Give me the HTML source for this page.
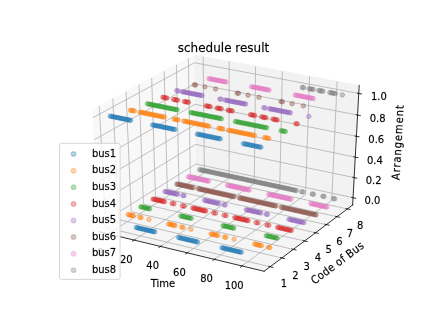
<!DOCTYPE html>
<html><head><meta charset="utf-8"><title>schedule result</title>
<style>html,body{margin:0;padding:0;background:#fff;overflow:hidden}svg{display:block}svg text{stroke:#000;stroke-width:0.25px;stroke-opacity:0.6}</style></head>
<body>
<svg width="436" height="327" viewBox="0 0 436 327" version="1.1">
 
 <defs>
  <style type="text/css">*{stroke-linejoin: round; stroke-linecap: butt}</style>
 </defs>
 <g id="figure_1">
  <g id="patch_1">
   <path d="M 0 327 
L 436 327 
L 436 0 
L 0 0 
z
" style="fill: #ffffff"/>
  </g>
  <g id="patch_2">
   <path d="M 54.54 286.46 
L 392.38 286.46 
L 392.38 38.83 
L 54.54 38.83 
z
" style="fill: #ffffff"/>
  </g>
  <g id="pane3d_1">
   <g id="patch_3">
    <path d="M 99.32687 231.741958 
L 196.017709 171.029151 
L 194.40792 55.016904 
L 92.325976 109.566158 
" style="fill: #f2f2f2; opacity: 0.5; stroke: #f2f2f2; stroke-linejoin: miter"/>
   </g>
  </g>
  <g id="pane3d_2">
   <g id="patch_4">
    <path d="M 196.017709 171.029151 
L 352.647852 204.971536 
L 359.201019 85.461013 
L 194.40792 55.016904 
" style="fill: #e6e6e6; opacity: 0.5; stroke: #e6e6e6; stroke-linejoin: miter"/>
   </g>
  </g>
  <g id="pane3d_3">
   <g id="patch_5">
    <path d="M 99.32687 231.741958 
L 264.122883 271.273351 
L 352.647852 204.971536 
L 196.017709 171.029151 
" style="fill: #ececec; opacity: 0.5; stroke: #ececec; stroke-linejoin: miter"/>
   </g>
  </g>
  <g id="grid3d_1">
   <g id="Line3DCollection_1">
    <path d="M 108.080576 233.841803 
L 204.364116 172.837851 
L 203.171218 56.635848 
" style="fill: none; stroke: #b0b0b0; stroke-width: 0.8"/>
    <path d="M 134.080704 240.078734 
L 229.136944 178.206223 
L 229.193385 61.44322 
" style="fill: none; stroke: #b0b0b0; stroke-width: 0.8"/>
    <path d="M 160.46642 246.40816 
L 254.250344 183.648398 
L 255.591596 66.320062 
" style="fill: none; stroke: #b0b0b0; stroke-width: 0.8"/>
    <path d="M 187.246364 252.832153 
L 279.711388 189.165909 
L 282.374064 71.267893 
" style="fill: none; stroke: #b0b0b0; stroke-width: 0.8"/>
    <path d="M 214.429437 259.35285 
L 305.527346 194.760332 
L 309.549238 76.288273 
" style="fill: none; stroke: #b0b0b0; stroke-width: 0.8"/>
    <path d="M 242.024813 265.972449 
L 331.705689 200.433285 
L 337.125821 81.38281 
" style="fill: none; stroke: #b0b0b0; stroke-width: 0.8"/>
   </g>
  </g>
  <g id="grid3d_2">
   <g id="Line3DCollection_2">
    <path d="M 99.310911 105.833637 
L 105.918925 227.602764 
L 270.177104 266.738971 
" style="fill: none; stroke: #b0b0b0; stroke-width: 0.8"/>
    <path d="M 112.799635 98.625704 
L 118.658897 219.603252 
L 281.869793 257.981595 
" style="fill: none; stroke: #b0b0b0; stroke-width: 0.8"/>
    <path d="M 126.020722 91.560787 
L 131.158822 211.754469 
L 293.332117 249.396752 
" style="fill: none; stroke: #b0b0b0; stroke-width: 0.8"/>
    <path d="M 138.982059 84.634672 
L 143.425419 204.052192 
L 304.570819 240.979395 
" style="fill: none; stroke: #b0b0b0; stroke-width: 0.8"/>
    <path d="M 151.691226 77.843308 
L 155.465163 196.492359 
L 315.592379 232.724668 
" style="fill: none; stroke: #b0b0b0; stroke-width: 0.8"/>
    <path d="M 164.155513 71.182801 
L 167.284288 189.071053 
L 326.40303 224.627903 
" style="fill: none; stroke: #b0b0b0; stroke-width: 0.8"/>
    <path d="M 176.381928 64.649405 
L 178.888803 181.784503 
L 337.008769 216.68461 
" style="fill: none; stroke: #b0b0b0; stroke-width: 0.8"/>
    <path d="M 188.377216 58.239515 
L 190.284501 174.62907 
L 347.415368 208.890466 
" style="fill: none; stroke: #b0b0b0; stroke-width: 0.8"/>
   </g>
  </g>
  <g id="grid3d_3">
   <g id="Line3DCollection_3">
    <path d="M 353.045222 197.724663 
L 195.919895 163.979999 
L 98.903037 224.345439 
" style="fill: none; stroke: #b0b0b0; stroke-width: 0.8"/>
    <path d="M 354.14853 177.603572 
L 195.648447 144.41765 
L 97.725789 203.80076 
" style="fill: none; stroke: #b0b0b0; stroke-width: 0.8"/>
    <path d="M 355.271485 157.124179 
L 195.37237 124.521686 
L 96.526878 182.878009 
" style="fill: none; stroke: #b0b0b0; stroke-width: 0.8"/>
    <path d="M 356.414616 136.276828 
L 195.091545 104.283501 
L 95.305699 161.566655 
" style="fill: none; stroke: #b0b0b0; stroke-width: 0.8"/>
    <path d="M 357.578472 115.051512 
L 194.805847 83.694187 
L 94.061626 139.855769 
" style="fill: none; stroke: #b0b0b0; stroke-width: 0.8"/>
    <path d="M 358.763622 93.437858 
L 194.515149 62.744526 
L 92.794009 117.734009 
" style="fill: none; stroke: #b0b0b0; stroke-width: 0.8"/>
   </g>
  </g>
  <g id="axis3d_1">
   <g id="line2d_1">
    <path d="M 99.32687 231.741958 
L 264.122883 271.273351 
" style="fill: none; stroke: #000000; stroke-width: 0.8; stroke-linecap: square"/>
   </g>
   <g id="xtick_1">
    <g id="line2d_2">
     <path d="M 108.910086 233.316237 
L 106.418463 234.894896 
" style="fill: none; stroke: #000000; stroke-width: 0.8; stroke-linecap: square"/>
    </g>
    <g id="text_1">
     <text style="font-size: 10px; font-family: 'DejaVu Sans', 'Liberation Sans', sans-serif; text-anchor: middle" x="0" y="0" transform="translate(100.258 256.379) rotate(-0.0000) scale(1 1.120)">0</text>
    </g>
   </g>
   <g id="xtick_2">
    <g id="line2d_3">
     <path d="M 134.900071 239.545405 
L 132.438893 241.147396 
" style="fill: none; stroke: #000000; stroke-width: 0.8; stroke-linecap: square"/>
    </g>
    <g id="text_2">
     <text style="font-size: 10px; font-family: 'DejaVu Sans', 'Liberation Sans', sans-serif; text-anchor: middle" x="0" y="0" transform="translate(126.255 262.729) rotate(-0.0000) scale(1 1.120)">20</text>
    </g>
   </g>
   <g id="xtick_3">
    <g id="line2d_4">
     <path d="M 161.27525 245.866894 
L 158.845698 247.492739 
" style="fill: none; stroke: #000000; stroke-width: 0.8; stroke-linecap: square"/>
    </g>
    <g id="text_3">
     <text style="font-size: 10px; font-family: 'DejaVu Sans', 'Liberation Sans', sans-serif; text-anchor: middle" x="0" y="0" transform="translate(152.639 269.174) rotate(-0.0000) scale(1 1.120)">40</text>
    </g>
   </g>
   <g id="xtick_4">
    <g id="line2d_5">
     <path d="M 188.04425 252.282773 
L 185.647548 253.933008 
" style="fill: none; stroke: #000000; stroke-width: 0.8; stroke-linecap: square"/>
    </g>
    <g id="text_4">
     <text style="font-size: 10px; font-family: 'DejaVu Sans', 'Liberation Sans', sans-serif; text-anchor: middle" x="0" y="0" transform="translate(179.417 275.716) rotate(-0.0000) scale(1 1.120)">60</text>
    </g>
   </g>
   <g id="xtick_5">
    <g id="line2d_6">
     <path d="M 215.215958 258.795171 
L 212.853375 260.470349 
" style="fill: none; stroke: #000000; stroke-width: 0.8; stroke-linecap: square"/>
    </g>
    <g id="text_5">
     <text style="font-size: 10px; font-family: 'DejaVu Sans', 'Liberation Sans', sans-serif; text-anchor: middle" x="0" y="0" transform="translate(206.599 282.356) rotate(-0.0000) scale(1 1.120)">80</text>
    </g>
   </g>
   <g id="xtick_6">
    <g id="line2d_7">
     <path d="M 242.79953 265.406283 
L 240.47238 267.106974 
" style="fill: none; stroke: #000000; stroke-width: 0.8; stroke-linecap: square"/>
    </g>
    <g id="text_6">
     <text style="font-size: 10px; font-family: 'DejaVu Sans', 'Liberation Sans', sans-serif; text-anchor: middle" x="0" y="0" transform="translate(234.194 289.097) rotate(-0.0000) scale(1 1.120)">100</text>
    </g>
   </g>
   <g id="text_7">
    <text style="font-size: 10px; font-family: 'DejaVu Sans', 'Liberation Sans', sans-serif; text-anchor: middle" x="0" y="0" transform="translate(162.863 286.736) rotate(-0.0000) scale(1 1.120)">Time</text>
   </g>
  </g>
  <g id="axis3d_2">
   <g id="line2d_8">
    <path d="M 352.647852 204.971536 
L 264.122883 271.273351 
" style="fill: none; stroke: #000000; stroke-width: 0.8; stroke-linecap: square"/>
   </g>
   <g id="xtick_7">
    <g id="line2d_9">
     <path d="M 268.802408 266.411436 
L 272.929569 267.394774 
" style="fill: none; stroke: #000000; stroke-width: 0.8; stroke-linecap: square"/>
    </g>
    <g id="text_8">
     <text style="font-size: 10px; font-family: 'DejaVu Sans', 'Liberation Sans', sans-serif; text-anchor: middle" x="0" y="0" transform="translate(283.865 287.480) rotate(-0.0000) scale(1 1.120)">1</text>
    </g>
   </g>
   <g id="xtick_8">
    <g id="line2d_10">
     <path d="M 280.504461 257.660543 
L 284.603478 258.624409 
" style="fill: none; stroke: #000000; stroke-width: 0.8; stroke-linecap: square"/>
    </g>
    <g id="text_9">
     <text style="font-size: 10px; font-family: 'DejaVu Sans', 'Liberation Sans', sans-serif; text-anchor: middle" x="0" y="0" transform="translate(295.424 278.608) rotate(-0.0000) scale(1 1.120)">2</text>
    </g>
   </g>
   <g id="xtick_9">
    <g id="line2d_11">
     <path d="M 291.976048 249.081993 
L 296.047225 250.02696 
" style="fill: none; stroke: #000000; stroke-width: 0.8; stroke-linecap: square"/>
    </g>
    <g id="text_10">
     <text style="font-size: 10px; font-family: 'DejaVu Sans', 'Liberation Sans', sans-serif; text-anchor: middle" x="0" y="0" transform="translate(306.756 269.910) rotate(-0.0000) scale(1 1.120)">3</text>
    </g>
   </g>
   <g id="xtick_10">
    <g id="line2d_12">
     <path d="M 303.223914 240.670745 
L 307.267551 241.597363 
" style="fill: none; stroke: #000000; stroke-width: 0.8; stroke-linecap: square"/>
    </g>
    <g id="text_11">
     <text style="font-size: 10px; font-family: 'DejaVu Sans', 'Liberation Sans', sans-serif; text-anchor: middle" x="0" y="0" transform="translate(317.867 261.382) rotate(-0.0000) scale(1 1.120)">4</text>
    </g>
   </g>
   <g id="xtick_11">
    <g id="line2d_13">
     <path d="M 314.254539 232.421952 
L 318.270934 233.33075 
" style="fill: none; stroke: #000000; stroke-width: 0.8; stroke-linecap: square"/>
    </g>
    <g id="text_12">
     <text style="font-size: 10px; font-family: 'DejaVu Sans', 'Liberation Sans', sans-serif; text-anchor: middle" x="0" y="0" transform="translate(328.763 253.018) rotate(-0.0000) scale(1 1.120)">5</text>
    </g>
   </g>
   <g id="xtick_12">
    <g id="line2d_14">
     <path d="M 325.074156 224.330951 
L 329.063608 225.222439 
" style="fill: none; stroke: #000000; stroke-width: 0.8; stroke-linecap: square"/>
    </g>
    <g id="text_13">
     <text style="font-size: 10px; font-family: 'DejaVu Sans', 'Liberation Sans', sans-serif; text-anchor: middle" x="0" y="0" transform="translate(339.451 244.815) rotate(-0.0000) scale(1 1.120)">6</text>
    </g>
   </g>
   <g id="xtick_13">
    <g id="line2d_15">
     <path d="M 335.688762 216.393259 
L 339.651566 217.267926 
" style="fill: none; stroke: #000000; stroke-width: 0.8; stroke-linecap: square"/>
    </g>
    <g id="text_14">
     <text style="font-size: 10px; font-family: 'DejaVu Sans', 'Liberation Sans', sans-serif; text-anchor: middle" x="0" y="0" transform="translate(349.936 236.767) rotate(-0.0000) scale(1 1.120)">7</text>
    </g>
   </g>
   <g id="xtick_14">
    <g id="line2d_16">
     <path d="M 346.104131 208.604559 
L 350.040578 209.462877 
" style="fill: none; stroke: #000000; stroke-width: 0.8; stroke-linecap: square"/>
    </g>
    <g id="text_15">
     <text style="font-size: 10px; font-family: 'DejaVu Sans', 'Liberation Sans', sans-serif; text-anchor: middle" x="0" y="0" transform="translate(360.224 228.870) rotate(-0.0000) scale(1 1.120)">8</text>
    </g>
   </g>
   <g id="text_16">
    <text style="font-size: 10px; font-family: 'DejaVu Sans', 'Liberation Sans', sans-serif; text-anchor: middle" x="0" y="0" transform="translate(339.557 265.950) rotate(-36.8318) scale(1 1.120)" textLength="62.59" lengthAdjust="spacing">Code of Bus</text>
   </g>
  </g>
  <g id="axis3d_3">
   <g id="line2d_17">
    <path d="M 352.647852 204.971536 
L 359.201019 85.461013 
" style="fill: none; stroke: #000000; stroke-width: 0.8; stroke-linecap: square"/>
   </g>
   <g id="xtick_15">
    <g id="line2d_18">
     <path d="M 351.734118 197.443087 
L 355.670164 198.288403 
" style="fill: none; stroke: #000000; stroke-width: 0.8; stroke-linecap: square"/>
    </g>
    <g id="text_17">
     <text style="font-size: 10px; font-family: 'DejaVu Sans', 'Liberation Sans', sans-serif; text-anchor: middle" x="0" y="0" transform="translate(372.411 204.084) rotate(-0.0000) scale(1 1.120)">0.0</text>
    </g>
   </g>
   <g id="xtick_16">
    <g id="line2d_19">
     <path d="M 352.825473 177.326558 
L 356.797426 178.158184 
" style="fill: none; stroke: #000000; stroke-width: 0.8; stroke-linecap: square"/>
    </g>
    <g id="text_18">
     <text style="font-size: 10px; font-family: 'DejaVu Sans', 'Liberation Sans', sans-serif; text-anchor: middle" x="0" y="0" transform="translate(373.675 183.994) rotate(-0.0000) scale(1 1.120)">0.2</text>
    </g>
   </g>
   <g id="xtick_17">
    <g id="line2d_20">
     <path d="M 353.936255 156.851934 
L 357.944777 157.669248 
" style="fill: none; stroke: #000000; stroke-width: 0.8; stroke-linecap: square"/>
    </g>
    <g id="text_19">
     <text style="font-size: 10px; font-family: 'DejaVu Sans', 'Liberation Sans', sans-serif; text-anchor: middle" x="0" y="0" transform="translate(374.961 163.547) rotate(-0.0000) scale(1 1.120)">0.4</text>
    </g>
   </g>
   <g id="xtick_18">
    <g id="line2d_21">
     <path d="M 355.066988 136.009569 
L 359.112756 136.811919 
" style="fill: none; stroke: #000000; stroke-width: 0.8; stroke-linecap: square"/>
    </g>
    <g id="text_20">
     <text style="font-size: 10px; font-family: 'DejaVu Sans', 'Liberation Sans', sans-serif; text-anchor: middle" x="0" y="0" transform="translate(376.270 142.735) rotate(-0.0000) scale(1 1.120)">0.6</text>
    </g>
   </g>
   <g id="xtick_19">
    <g id="line2d_22">
     <path d="M 356.218213 114.789465 
L 360.301927 115.576172 
" style="fill: none; stroke: #000000; stroke-width: 0.8; stroke-linecap: square"/>
    </g>
    <g id="text_21">
     <text style="font-size: 10px; font-family: 'DejaVu Sans', 'Liberation Sans', sans-serif; text-anchor: middle" x="0" y="0" transform="translate(377.603 121.545) rotate(-0.0000) scale(1 1.120)">0.8</text>
    </g>
   </g>
   <g id="xtick_20">
    <g id="line2d_23">
     <path d="M 357.390494 93.18126 
L 361.512871 93.951614 
" style="fill: none; stroke: #000000; stroke-width: 0.8; stroke-linecap: square"/>
    </g>
    <g id="text_22">
     <text style="font-size: 10px; font-family: 'DejaVu Sans', 'Liberation Sans', sans-serif; text-anchor: middle" x="0" y="0" transform="translate(378.960 99.969) rotate(-0.0000) scale(1 1.120)">1.0</text>
    </g>
   </g>
   <g id="text_23">
    <text style="font-size: 10px; font-family: 'DejaVu Sans', 'Liberation Sans', sans-serif; text-anchor: middle" x="0" y="0" transform="translate(401.612 142.870) rotate(-86.8614) scale(1 1.120)" textLength="75.08" lengthAdjust="spacing">Arrangement</text>
   </g>
  </g>
  <g id="axes_1">
   <g id="Path3DCollection_1">
    
    <g clip-path="url(#p0552d5e2ae)">
     <circle cx="199.803788" cy="169.640628" r="2.2361" style="fill: #7f7f7f; fill-opacity: 0.4; stroke: #7f7f7f; stroke-opacity: 0.4"/>
     <circle cx="201.04278" cy="169.908367" r="2.2361" style="fill: #7f7f7f; fill-opacity: 0.4; stroke: #7f7f7f; stroke-opacity: 0.4"/>
     <circle cx="202.28262" cy="170.17629" r="2.2361" style="fill: #7f7f7f; fill-opacity: 0.4; stroke: #7f7f7f; stroke-opacity: 0.4"/>
     <circle cx="203.523308" cy="170.444396" r="2.2361" style="fill: #7f7f7f; fill-opacity: 0.4; stroke: #7f7f7f; stroke-opacity: 0.4"/>
     <circle cx="204.764845" cy="170.712685" r="2.2361" style="fill: #7f7f7f; fill-opacity: 0.4; stroke: #7f7f7f; stroke-opacity: 0.4"/>
     <circle cx="206.007233" cy="170.981158" r="2.2361" style="fill: #7f7f7f; fill-opacity: 0.4; stroke: #7f7f7f; stroke-opacity: 0.4"/>
     <circle cx="207.250471" cy="171.249815" r="2.2361" style="fill: #7f7f7f; fill-opacity: 0.4; stroke: #7f7f7f; stroke-opacity: 0.4"/>
     <circle cx="208.494561" cy="171.518656" r="2.2361" style="fill: #7f7f7f; fill-opacity: 0.4; stroke: #7f7f7f; stroke-opacity: 0.4"/>
     <circle cx="209.739504" cy="171.787682" r="2.2361" style="fill: #7f7f7f; fill-opacity: 0.4; stroke: #7f7f7f; stroke-opacity: 0.4"/>
     <circle cx="210.9853" cy="172.056892" r="2.2361" style="fill: #7f7f7f; fill-opacity: 0.4; stroke: #7f7f7f; stroke-opacity: 0.4"/>
     <circle cx="212.231951" cy="172.326286" r="2.2361" style="fill: #7f7f7f; fill-opacity: 0.4; stroke: #7f7f7f; stroke-opacity: 0.4"/>
     <circle cx="213.479457" cy="172.595865" r="2.2361" style="fill: #7f7f7f; fill-opacity: 0.4; stroke: #7f7f7f; stroke-opacity: 0.4"/>
     <circle cx="214.72782" cy="172.865629" r="2.2361" style="fill: #7f7f7f; fill-opacity: 0.4; stroke: #7f7f7f; stroke-opacity: 0.4"/>
     <circle cx="215.977039" cy="173.135579" r="2.2361" style="fill: #7f7f7f; fill-opacity: 0.4; stroke: #7f7f7f; stroke-opacity: 0.4"/>
     <circle cx="217.227116" cy="173.405714" r="2.2361" style="fill: #7f7f7f; fill-opacity: 0.4; stroke: #7f7f7f; stroke-opacity: 0.4"/>
     <circle cx="218.478053" cy="173.676034" r="2.2361" style="fill: #7f7f7f; fill-opacity: 0.4; stroke: #7f7f7f; stroke-opacity: 0.4"/>
     <circle cx="219.729849" cy="173.94654" r="2.2361" style="fill: #7f7f7f; fill-opacity: 0.4; stroke: #7f7f7f; stroke-opacity: 0.4"/>
     <circle cx="220.982505" cy="174.217233" r="2.2361" style="fill: #7f7f7f; fill-opacity: 0.4; stroke: #7f7f7f; stroke-opacity: 0.4"/>
     <circle cx="222.236023" cy="174.488111" r="2.2361" style="fill: #7f7f7f; fill-opacity: 0.4; stroke: #7f7f7f; stroke-opacity: 0.4"/>
     <circle cx="223.490404" cy="174.759176" r="2.2361" style="fill: #7f7f7f; fill-opacity: 0.4; stroke: #7f7f7f; stroke-opacity: 0.4"/>
     <circle cx="224.745648" cy="175.030427" r="2.2361" style="fill: #7f7f7f; fill-opacity: 0.4; stroke: #7f7f7f; stroke-opacity: 0.4"/>
     <circle cx="226.001756" cy="175.301865" r="2.2361" style="fill: #7f7f7f; fill-opacity: 0.4; stroke: #7f7f7f; stroke-opacity: 0.4"/>
     <circle cx="227.258729" cy="175.57349" r="2.2361" style="fill: #7f7f7f; fill-opacity: 0.4; stroke: #7f7f7f; stroke-opacity: 0.4"/>
     <circle cx="228.516568" cy="175.845302" r="2.2361" style="fill: #7f7f7f; fill-opacity: 0.4; stroke: #7f7f7f; stroke-opacity: 0.4"/>
     <circle cx="229.775274" cy="176.117302" r="2.2361" style="fill: #7f7f7f; fill-opacity: 0.4; stroke: #7f7f7f; stroke-opacity: 0.4"/>
     <circle cx="231.034847" cy="176.389489" r="2.2361" style="fill: #7f7f7f; fill-opacity: 0.4; stroke: #7f7f7f; stroke-opacity: 0.4"/>
     <circle cx="232.29529" cy="176.661863" r="2.2361" style="fill: #7f7f7f; fill-opacity: 0.4; stroke: #7f7f7f; stroke-opacity: 0.4"/>
     <circle cx="233.556601" cy="176.934426" r="2.2361" style="fill: #7f7f7f; fill-opacity: 0.4; stroke: #7f7f7f; stroke-opacity: 0.4"/>
     <circle cx="234.818784" cy="177.207177" r="2.2361" style="fill: #7f7f7f; fill-opacity: 0.4; stroke: #7f7f7f; stroke-opacity: 0.4"/>
     <circle cx="236.081837" cy="177.480116" r="2.2361" style="fill: #7f7f7f; fill-opacity: 0.4; stroke: #7f7f7f; stroke-opacity: 0.4"/>
     <circle cx="237.345763" cy="177.753243" r="2.2361" style="fill: #7f7f7f; fill-opacity: 0.4; stroke: #7f7f7f; stroke-opacity: 0.4"/>
     <circle cx="238.610563" cy="178.026559" r="2.2361" style="fill: #7f7f7f; fill-opacity: 0.4; stroke: #7f7f7f; stroke-opacity: 0.4"/>
     <circle cx="239.876236" cy="178.300064" r="2.2361" style="fill: #7f7f7f; fill-opacity: 0.4; stroke: #7f7f7f; stroke-opacity: 0.4"/>
     <circle cx="241.142784" cy="178.573758" r="2.2361" style="fill: #7f7f7f; fill-opacity: 0.4; stroke: #7f7f7f; stroke-opacity: 0.4"/>
     <circle cx="242.410208" cy="178.847642" r="2.2361" style="fill: #7f7f7f; fill-opacity: 0.4; stroke: #7f7f7f; stroke-opacity: 0.4"/>
     <circle cx="243.678509" cy="179.121715" r="2.2361" style="fill: #7f7f7f; fill-opacity: 0.4; stroke: #7f7f7f; stroke-opacity: 0.4"/>
     <circle cx="244.947687" cy="179.395977" r="2.2361" style="fill: #7f7f7f; fill-opacity: 0.4; stroke: #7f7f7f; stroke-opacity: 0.4"/>
     <circle cx="246.217745" cy="179.67043" r="2.2361" style="fill: #7f7f7f; fill-opacity: 0.4; stroke: #7f7f7f; stroke-opacity: 0.4"/>
     <circle cx="247.488681" cy="179.945072" r="2.2361" style="fill: #7f7f7f; fill-opacity: 0.4; stroke: #7f7f7f; stroke-opacity: 0.4"/>
     <circle cx="248.760498" cy="180.219905" r="2.2361" style="fill: #7f7f7f; fill-opacity: 0.4; stroke: #7f7f7f; stroke-opacity: 0.4"/>
     <circle cx="250.033197" cy="180.494928" r="2.2361" style="fill: #7f7f7f; fill-opacity: 0.4; stroke: #7f7f7f; stroke-opacity: 0.4"/>
     <circle cx="251.306778" cy="180.770142" r="2.2361" style="fill: #7f7f7f; fill-opacity: 0.4; stroke: #7f7f7f; stroke-opacity: 0.4"/>
     <circle cx="252.581242" cy="181.045546" r="2.2361" style="fill: #7f7f7f; fill-opacity: 0.4; stroke: #7f7f7f; stroke-opacity: 0.4"/>
     <circle cx="253.85659" cy="181.321142" r="2.2361" style="fill: #7f7f7f; fill-opacity: 0.4; stroke: #7f7f7f; stroke-opacity: 0.4"/>
     <circle cx="255.132823" cy="181.596929" r="2.2361" style="fill: #7f7f7f; fill-opacity: 0.4; stroke: #7f7f7f; stroke-opacity: 0.4"/>
     <circle cx="256.409942" cy="181.872907" r="2.2361" style="fill: #7f7f7f; fill-opacity: 0.4; stroke: #7f7f7f; stroke-opacity: 0.4"/>
     <circle cx="257.687948" cy="182.149078" r="2.2361" style="fill: #7f7f7f; fill-opacity: 0.4; stroke: #7f7f7f; stroke-opacity: 0.4"/>
     <circle cx="258.966842" cy="182.425439" r="2.2361" style="fill: #7f7f7f; fill-opacity: 0.4; stroke: #7f7f7f; stroke-opacity: 0.4"/>
     <circle cx="260.246624" cy="182.701993" r="2.2361" style="fill: #7f7f7f; fill-opacity: 0.4; stroke: #7f7f7f; stroke-opacity: 0.4"/>
     <circle cx="261.527296" cy="182.97874" r="2.2361" style="fill: #7f7f7f; fill-opacity: 0.4; stroke: #7f7f7f; stroke-opacity: 0.4"/>
     <circle cx="262.808859" cy="183.255678" r="2.2361" style="fill: #7f7f7f; fill-opacity: 0.4; stroke: #7f7f7f; stroke-opacity: 0.4"/>
     <circle cx="264.091313" cy="183.53281" r="2.2361" style="fill: #7f7f7f; fill-opacity: 0.4; stroke: #7f7f7f; stroke-opacity: 0.4"/>
     <circle cx="265.37466" cy="183.810134" r="2.2361" style="fill: #7f7f7f; fill-opacity: 0.4; stroke: #7f7f7f; stroke-opacity: 0.4"/>
     <circle cx="266.6589" cy="184.087651" r="2.2361" style="fill: #7f7f7f; fill-opacity: 0.4; stroke: #7f7f7f; stroke-opacity: 0.4"/>
     <circle cx="267.944034" cy="184.365362" r="2.2361" style="fill: #7f7f7f; fill-opacity: 0.4; stroke: #7f7f7f; stroke-opacity: 0.4"/>
     <circle cx="269.230064" cy="184.643265" r="2.2361" style="fill: #7f7f7f; fill-opacity: 0.4; stroke: #7f7f7f; stroke-opacity: 0.4"/>
     <circle cx="270.516989" cy="184.921363" r="2.2361" style="fill: #7f7f7f; fill-opacity: 0.4; stroke: #7f7f7f; stroke-opacity: 0.4"/>
     <circle cx="271.804812" cy="185.199655" r="2.2361" style="fill: #7f7f7f; fill-opacity: 0.4; stroke: #7f7f7f; stroke-opacity: 0.4"/>
     <circle cx="273.093533" cy="185.47814" r="2.2361" style="fill: #7f7f7f; fill-opacity: 0.4; stroke: #7f7f7f; stroke-opacity: 0.4"/>
     <circle cx="274.383153" cy="185.75682" r="2.2361" style="fill: #7f7f7f; fill-opacity: 0.4; stroke: #7f7f7f; stroke-opacity: 0.4"/>
     <circle cx="275.673673" cy="186.035694" r="2.2361" style="fill: #7f7f7f; fill-opacity: 0.4; stroke: #7f7f7f; stroke-opacity: 0.4"/>
     <circle cx="276.965094" cy="186.314763" r="2.2361" style="fill: #7f7f7f; fill-opacity: 0.4; stroke: #7f7f7f; stroke-opacity: 0.4"/>
     <circle cx="278.257416" cy="186.594027" r="2.2361" style="fill: #7f7f7f; fill-opacity: 0.4; stroke: #7f7f7f; stroke-opacity: 0.4"/>
     <circle cx="279.550641" cy="186.873486" r="2.2361" style="fill: #7f7f7f; fill-opacity: 0.4; stroke: #7f7f7f; stroke-opacity: 0.4"/>
     <circle cx="280.84477" cy="187.15314" r="2.2361" style="fill: #7f7f7f; fill-opacity: 0.4; stroke: #7f7f7f; stroke-opacity: 0.4"/>
     <circle cx="282.139804" cy="187.43299" r="2.2361" style="fill: #7f7f7f; fill-opacity: 0.4; stroke: #7f7f7f; stroke-opacity: 0.4"/>
     <circle cx="283.435743" cy="187.713035" r="2.2361" style="fill: #7f7f7f; fill-opacity: 0.4; stroke: #7f7f7f; stroke-opacity: 0.4"/>
     <circle cx="284.732589" cy="187.993276" r="2.2361" style="fill: #7f7f7f; fill-opacity: 0.4; stroke: #7f7f7f; stroke-opacity: 0.4"/>
     <circle cx="286.030342" cy="188.273714" r="2.2361" style="fill: #7f7f7f; fill-opacity: 0.4; stroke: #7f7f7f; stroke-opacity: 0.4"/>
     <circle cx="287.329004" cy="188.554347" r="2.2361" style="fill: #7f7f7f; fill-opacity: 0.4; stroke: #7f7f7f; stroke-opacity: 0.4"/>
     <circle cx="288.628575" cy="188.835177" r="2.2361" style="fill: #7f7f7f; fill-opacity: 0.4; stroke: #7f7f7f; stroke-opacity: 0.4"/>
     <circle cx="289.929057" cy="189.116204" r="2.2361" style="fill: #7f7f7f; fill-opacity: 0.4; stroke: #7f7f7f; stroke-opacity: 0.4"/>
     <circle cx="291.23045" cy="189.397428" r="2.2361" style="fill: #7f7f7f; fill-opacity: 0.4; stroke: #7f7f7f; stroke-opacity: 0.4"/>
     <circle cx="292.532755" cy="189.678849" r="2.2361" style="fill: #7f7f7f; fill-opacity: 0.4; stroke: #7f7f7f; stroke-opacity: 0.4"/>
     <circle cx="293.835973" cy="189.960468" r="2.2361" style="fill: #7f7f7f; fill-opacity: 0.4; stroke: #7f7f7f; stroke-opacity: 0.4"/>
     <circle cx="295.140106" cy="190.242284" r="2.2361" style="fill: #7f7f7f; fill-opacity: 0.4; stroke: #7f7f7f; stroke-opacity: 0.4"/>
     <circle cx="296.445154" cy="190.524297" r="2.2361" style="fill: #7f7f7f; fill-opacity: 0.4; stroke: #7f7f7f; stroke-opacity: 0.4"/>
     <circle cx="301.674516" cy="191.654334" r="2.2361" style="fill: #7f7f7f; fill-opacity: 0.4; stroke: #7f7f7f; stroke-opacity: 0.4"/>
     <circle cx="302.984154" cy="191.937339" r="2.2361" style="fill: #7f7f7f; fill-opacity: 0.4; stroke: #7f7f7f; stroke-opacity: 0.4"/>
     <circle cx="312.177462" cy="193.923963" r="2.2361" style="fill: #7f7f7f; fill-opacity: 0.4; stroke: #7f7f7f; stroke-opacity: 0.4"/>
     <circle cx="313.494496" cy="194.208566" r="2.2361" style="fill: #7f7f7f; fill-opacity: 0.4; stroke: #7f7f7f; stroke-opacity: 0.4"/>
     <circle cx="322.739789" cy="196.206424" r="2.2361" style="fill: #7f7f7f; fill-opacity: 0.4; stroke: #7f7f7f; stroke-opacity: 0.4"/>
     <circle cx="324.06428" cy="196.492639" r="2.2361" style="fill: #7f7f7f; fill-opacity: 0.4; stroke: #7f7f7f; stroke-opacity: 0.4"/>
     <circle cx="333.362" cy="198.501825" r="2.2361" style="fill: #7f7f7f; fill-opacity: 0.4; stroke: #7f7f7f; stroke-opacity: 0.4"/>
     <circle cx="334.694012" cy="198.789666" r="2.2361" style="fill: #7f7f7f; fill-opacity: 0.4; stroke: #7f7f7f; stroke-opacity: 0.4"/>
     <circle cx="302.279244" cy="87.392923" r="2.2361" style="fill: #7f7f7f; fill-opacity: 0.4; stroke: #7f7f7f; stroke-opacity: 0.4"/>
     <circle cx="303.647555" cy="87.650277" r="2.2361" style="fill: #7f7f7f; fill-opacity: 0.4; stroke: #7f7f7f; stroke-opacity: 0.4"/>
     <circle cx="309.130861" cy="88.681586" r="2.2361" style="fill: #7f7f7f; fill-opacity: 0.4; stroke: #7f7f7f; stroke-opacity: 0.4"/>
     <circle cx="310.504209" cy="88.939888" r="2.2361" style="fill: #7f7f7f; fill-opacity: 0.4; stroke: #7f7f7f; stroke-opacity: 0.4"/>
     <circle cx="311.878567" cy="89.198379" r="2.2361" style="fill: #7f7f7f; fill-opacity: 0.4; stroke: #7f7f7f; stroke-opacity: 0.4"/>
     <circle cx="313.253938" cy="89.457061" r="2.2361" style="fill: #7f7f7f; fill-opacity: 0.4; stroke: #7f7f7f; stroke-opacity: 0.4"/>
     <circle cx="318.76556" cy="90.493696" r="2.2361" style="fill: #7f7f7f; fill-opacity: 0.4; stroke: #7f7f7f; stroke-opacity: 0.4"/>
     <circle cx="320.146007" cy="90.753333" r="2.2361" style="fill: #7f7f7f; fill-opacity: 0.4; stroke: #7f7f7f; stroke-opacity: 0.4"/>
     <circle cx="321.527472" cy="91.013161" r="2.2361" style="fill: #7f7f7f; fill-opacity: 0.4; stroke: #7f7f7f; stroke-opacity: 0.4"/>
     <circle cx="322.909957" cy="91.273181" r="2.2361" style="fill: #7f7f7f; fill-opacity: 0.4; stroke: #7f7f7f; stroke-opacity: 0.4"/>
     <circle cx="329.837717" cy="92.576166" r="2.2361" style="fill: #7f7f7f; fill-opacity: 0.4; stroke: #7f7f7f; stroke-opacity: 0.4"/>
     <circle cx="331.226344" cy="92.837341" r="2.2361" style="fill: #7f7f7f; fill-opacity: 0.4; stroke: #7f7f7f; stroke-opacity: 0.4"/>
     <circle cx="332.615998" cy="93.09871" r="2.2361" style="fill: #7f7f7f; fill-opacity: 0.4; stroke: #7f7f7f; stroke-opacity: 0.4"/>
     <circle cx="334.006682" cy="93.360272" r="2.2361" style="fill: #7f7f7f; fill-opacity: 0.4; stroke: #7f7f7f; stroke-opacity: 0.4"/>
     <circle cx="335.398395" cy="93.622028" r="2.2361" style="fill: #7f7f7f; fill-opacity: 0.4; stroke: #7f7f7f; stroke-opacity: 0.4"/>
     <circle cx="342.372452" cy="94.93372" r="2.2361" style="fill: #7f7f7f; fill-opacity: 0.4; stroke: #7f7f7f; stroke-opacity: 0.4"/>
    </g>
   </g>
   <g id="Path3DCollection_2">
    
    <g clip-path="url(#p0552d5e2ae)">
     <circle cx="188.428962" cy="176.791984" r="2.2361" style="fill: #e377c2; fill-opacity: 0.4; stroke: #e377c2; stroke-opacity: 0.4"/>
     <circle cx="189.675348" cy="177.064637" r="2.2361" style="fill: #e377c2; fill-opacity: 0.4; stroke: #e377c2; stroke-opacity: 0.4"/>
     <circle cx="190.922594" cy="177.337477" r="2.2361" style="fill: #e377c2; fill-opacity: 0.4; stroke: #e377c2; stroke-opacity: 0.4"/>
     <circle cx="192.170701" cy="177.610506" r="2.2361" style="fill: #e377c2; fill-opacity: 0.4; stroke: #e377c2; stroke-opacity: 0.4"/>
     <circle cx="193.419671" cy="177.883724" r="2.2361" style="fill: #e377c2; fill-opacity: 0.4; stroke: #e377c2; stroke-opacity: 0.4"/>
     <circle cx="194.669503" cy="178.15713" r="2.2361" style="fill: #e377c2; fill-opacity: 0.4; stroke: #e377c2; stroke-opacity: 0.4"/>
     <circle cx="195.920199" cy="178.430725" r="2.2361" style="fill: #e377c2; fill-opacity: 0.4; stroke: #e377c2; stroke-opacity: 0.4"/>
     <circle cx="197.17176" cy="178.70451" r="2.2361" style="fill: #e377c2; fill-opacity: 0.4; stroke: #e377c2; stroke-opacity: 0.4"/>
     <circle cx="198.424187" cy="178.978484" r="2.2361" style="fill: #e377c2; fill-opacity: 0.4; stroke: #e377c2; stroke-opacity: 0.4"/>
     <circle cx="199.67748" cy="179.252647" r="2.2361" style="fill: #e377c2; fill-opacity: 0.4; stroke: #e377c2; stroke-opacity: 0.4"/>
     <circle cx="200.931641" cy="179.527" r="2.2361" style="fill: #e377c2; fill-opacity: 0.4; stroke: #e377c2; stroke-opacity: 0.4"/>
     <circle cx="202.18667" cy="179.801543" r="2.2361" style="fill: #e377c2; fill-opacity: 0.4; stroke: #e377c2; stroke-opacity: 0.4"/>
     <circle cx="203.442568" cy="180.076277" r="2.2361" style="fill: #e377c2; fill-opacity: 0.4; stroke: #e377c2; stroke-opacity: 0.4"/>
     <circle cx="204.699337" cy="180.3512" r="2.2361" style="fill: #e377c2; fill-opacity: 0.4; stroke: #e377c2; stroke-opacity: 0.4"/>
     <circle cx="205.956976" cy="180.626314" r="2.2361" style="fill: #e377c2; fill-opacity: 0.4; stroke: #e377c2; stroke-opacity: 0.4"/>
     <circle cx="207.215488" cy="180.901619" r="2.2361" style="fill: #e377c2; fill-opacity: 0.4; stroke: #e377c2; stroke-opacity: 0.4"/>
     <circle cx="208.474872" cy="181.177115" r="2.2361" style="fill: #e377c2; fill-opacity: 0.4; stroke: #e377c2; stroke-opacity: 0.4"/>
     <circle cx="227.471006" cy="185.332603" r="2.2361" style="fill: #e377c2; fill-opacity: 0.4; stroke: #e377c2; stroke-opacity: 0.4"/>
     <circle cx="228.744481" cy="185.611181" r="2.2361" style="fill: #e377c2; fill-opacity: 0.4; stroke: #e377c2; stroke-opacity: 0.4"/>
     <circle cx="230.018845" cy="185.889954" r="2.2361" style="fill: #e377c2; fill-opacity: 0.4; stroke: #e377c2; stroke-opacity: 0.4"/>
     <circle cx="231.294098" cy="186.168921" r="2.2361" style="fill: #e377c2; fill-opacity: 0.4; stroke: #e377c2; stroke-opacity: 0.4"/>
     <circle cx="232.570241" cy="186.448083" r="2.2361" style="fill: #e377c2; fill-opacity: 0.4; stroke: #e377c2; stroke-opacity: 0.4"/>
     <circle cx="233.847276" cy="186.72744" r="2.2361" style="fill: #e377c2; fill-opacity: 0.4; stroke: #e377c2; stroke-opacity: 0.4"/>
     <circle cx="235.125203" cy="187.006992" r="2.2361" style="fill: #e377c2; fill-opacity: 0.4; stroke: #e377c2; stroke-opacity: 0.4"/>
     <circle cx="236.404023" cy="187.286739" r="2.2361" style="fill: #e377c2; fill-opacity: 0.4; stroke: #e377c2; stroke-opacity: 0.4"/>
     <circle cx="237.683737" cy="187.566683" r="2.2361" style="fill: #e377c2; fill-opacity: 0.4; stroke: #e377c2; stroke-opacity: 0.4"/>
     <circle cx="238.964346" cy="187.846821" r="2.2361" style="fill: #e377c2; fill-opacity: 0.4; stroke: #e377c2; stroke-opacity: 0.4"/>
     <circle cx="240.245851" cy="188.127156" r="2.2361" style="fill: #e377c2; fill-opacity: 0.4; stroke: #e377c2; stroke-opacity: 0.4"/>
     <circle cx="241.528253" cy="188.407687" r="2.2361" style="fill: #e377c2; fill-opacity: 0.4; stroke: #e377c2; stroke-opacity: 0.4"/>
     <circle cx="242.811553" cy="188.688415" r="2.2361" style="fill: #e377c2; fill-opacity: 0.4; stroke: #e377c2; stroke-opacity: 0.4"/>
     <circle cx="244.095752" cy="188.969339" r="2.2361" style="fill: #e377c2; fill-opacity: 0.4; stroke: #e377c2; stroke-opacity: 0.4"/>
     <circle cx="245.380851" cy="189.25046" r="2.2361" style="fill: #e377c2; fill-opacity: 0.4; stroke: #e377c2; stroke-opacity: 0.4"/>
     <circle cx="246.66685" cy="189.531778" r="2.2361" style="fill: #e377c2; fill-opacity: 0.4; stroke: #e377c2; stroke-opacity: 0.4"/>
     <circle cx="247.953751" cy="189.813293" r="2.2361" style="fill: #e377c2; fill-opacity: 0.4; stroke: #e377c2; stroke-opacity: 0.4"/>
     <circle cx="249.241554" cy="190.095006" r="2.2361" style="fill: #e377c2; fill-opacity: 0.4; stroke: #e377c2; stroke-opacity: 0.4"/>
     <circle cx="268.667566" cy="194.344531" r="2.2361" style="fill: #e377c2; fill-opacity: 0.4; stroke: #e377c2; stroke-opacity: 0.4"/>
     <circle cx="269.969941" cy="194.629431" r="2.2361" style="fill: #e377c2; fill-opacity: 0.4; stroke: #e377c2; stroke-opacity: 0.4"/>
     <circle cx="271.273235" cy="194.914533" r="2.2361" style="fill: #e377c2; fill-opacity: 0.4; stroke: #e377c2; stroke-opacity: 0.4"/>
     <circle cx="272.577449" cy="195.199835" r="2.2361" style="fill: #e377c2; fill-opacity: 0.4; stroke: #e377c2; stroke-opacity: 0.4"/>
     <circle cx="273.882584" cy="195.485339" r="2.2361" style="fill: #e377c2; fill-opacity: 0.4; stroke: #e377c2; stroke-opacity: 0.4"/>
     <circle cx="275.18864" cy="195.771045" r="2.2361" style="fill: #e377c2; fill-opacity: 0.4; stroke: #e377c2; stroke-opacity: 0.4"/>
     <circle cx="276.49562" cy="196.056952" r="2.2361" style="fill: #e377c2; fill-opacity: 0.4; stroke: #e377c2; stroke-opacity: 0.4"/>
     <circle cx="277.803523" cy="196.343062" r="2.2361" style="fill: #e377c2; fill-opacity: 0.4; stroke: #e377c2; stroke-opacity: 0.4"/>
     <circle cx="279.112351" cy="196.629374" r="2.2361" style="fill: #e377c2; fill-opacity: 0.4; stroke: #e377c2; stroke-opacity: 0.4"/>
     <circle cx="280.422105" cy="196.915888" r="2.2361" style="fill: #e377c2; fill-opacity: 0.4; stroke: #e377c2; stroke-opacity: 0.4"/>
     <circle cx="281.732785" cy="197.202605" r="2.2361" style="fill: #e377c2; fill-opacity: 0.4; stroke: #e377c2; stroke-opacity: 0.4"/>
     <circle cx="283.044393" cy="197.489525" r="2.2361" style="fill: #e377c2; fill-opacity: 0.4; stroke: #e377c2; stroke-opacity: 0.4"/>
     <circle cx="284.35693" cy="197.776648" r="2.2361" style="fill: #e377c2; fill-opacity: 0.4; stroke: #e377c2; stroke-opacity: 0.4"/>
     <circle cx="285.670397" cy="198.063975" r="2.2361" style="fill: #e377c2; fill-opacity: 0.4; stroke: #e377c2; stroke-opacity: 0.4"/>
     <circle cx="286.984794" cy="198.351505" r="2.2361" style="fill: #e377c2; fill-opacity: 0.4; stroke: #e377c2; stroke-opacity: 0.4"/>
     <circle cx="288.300123" cy="198.639239" r="2.2361" style="fill: #e377c2; fill-opacity: 0.4; stroke: #e377c2; stroke-opacity: 0.4"/>
     <circle cx="289.616385" cy="198.927177" r="2.2361" style="fill: #e377c2; fill-opacity: 0.4; stroke: #e377c2; stroke-opacity: 0.4"/>
     <circle cx="290.93358" cy="199.21532" r="2.2361" style="fill: #e377c2; fill-opacity: 0.4; stroke: #e377c2; stroke-opacity: 0.4"/>
     <circle cx="310.80423" cy="203.562111" r="2.2361" style="fill: #e377c2; fill-opacity: 0.4; stroke: #e377c2; stroke-opacity: 0.4"/>
     <circle cx="312.1365" cy="203.853551" r="2.2361" style="fill: #e377c2; fill-opacity: 0.4; stroke: #e377c2; stroke-opacity: 0.4"/>
     <circle cx="313.469721" cy="204.145199" r="2.2361" style="fill: #e377c2; fill-opacity: 0.4; stroke: #e377c2; stroke-opacity: 0.4"/>
     <circle cx="314.803893" cy="204.437055" r="2.2361" style="fill: #e377c2; fill-opacity: 0.4; stroke: #e377c2; stroke-opacity: 0.4"/>
     <circle cx="316.139019" cy="204.72912" r="2.2361" style="fill: #e377c2; fill-opacity: 0.4; stroke: #e377c2; stroke-opacity: 0.4"/>
     <circle cx="317.475098" cy="205.021393" r="2.2361" style="fill: #e377c2; fill-opacity: 0.4; stroke: #e377c2; stroke-opacity: 0.4"/>
     <circle cx="318.812132" cy="205.313875" r="2.2361" style="fill: #e377c2; fill-opacity: 0.4; stroke: #e377c2; stroke-opacity: 0.4"/>
     <circle cx="320.150122" cy="205.606566" r="2.2361" style="fill: #e377c2; fill-opacity: 0.4; stroke: #e377c2; stroke-opacity: 0.4"/>
     <circle cx="321.489069" cy="205.899467" r="2.2361" style="fill: #e377c2; fill-opacity: 0.4; stroke: #e377c2; stroke-opacity: 0.4"/>
     <circle cx="322.828973" cy="206.192577" r="2.2361" style="fill: #e377c2; fill-opacity: 0.4; stroke: #e377c2; stroke-opacity: 0.4"/>
     <circle cx="324.169837" cy="206.485896" r="2.2361" style="fill: #e377c2; fill-opacity: 0.4; stroke: #e377c2; stroke-opacity: 0.4"/>
     <circle cx="325.51166" cy="206.779426" r="2.2361" style="fill: #e377c2; fill-opacity: 0.4; stroke: #e377c2; stroke-opacity: 0.4"/>
     <circle cx="326.854445" cy="207.073166" r="2.2361" style="fill: #e377c2; fill-opacity: 0.4; stroke: #e377c2; stroke-opacity: 0.4"/>
     <circle cx="208.916067" cy="78.622798" r="2.2361" style="fill: #e377c2; fill-opacity: 0.4; stroke: #e377c2; stroke-opacity: 0.4"/>
     <circle cx="210.233398" cy="78.873751" r="2.2361" style="fill: #e377c2; fill-opacity: 0.4; stroke: #e377c2; stroke-opacity: 0.4"/>
     <circle cx="211.551686" cy="79.124886" r="2.2361" style="fill: #e377c2; fill-opacity: 0.4; stroke: #e377c2; stroke-opacity: 0.4"/>
     <circle cx="212.87093" cy="79.376204" r="2.2361" style="fill: #e377c2; fill-opacity: 0.4; stroke: #e377c2; stroke-opacity: 0.4"/>
     <circle cx="214.191131" cy="79.627703" r="2.2361" style="fill: #e377c2; fill-opacity: 0.4; stroke: #e377c2; stroke-opacity: 0.4"/>
     <circle cx="215.512292" cy="79.879386" r="2.2361" style="fill: #e377c2; fill-opacity: 0.4; stroke: #e377c2; stroke-opacity: 0.4"/>
     <circle cx="216.834412" cy="80.131251" r="2.2361" style="fill: #e377c2; fill-opacity: 0.4; stroke: #e377c2; stroke-opacity: 0.4"/>
     <circle cx="218.157493" cy="80.383299" r="2.2361" style="fill: #e377c2; fill-opacity: 0.4; stroke: #e377c2; stroke-opacity: 0.4"/>
     <circle cx="219.481536" cy="80.63553" r="2.2361" style="fill: #e377c2; fill-opacity: 0.4; stroke: #e377c2; stroke-opacity: 0.4"/>
     <circle cx="220.806542" cy="80.887945" r="2.2361" style="fill: #e377c2; fill-opacity: 0.4; stroke: #e377c2; stroke-opacity: 0.4"/>
     <circle cx="222.132512" cy="81.140544" r="2.2361" style="fill: #e377c2; fill-opacity: 0.4; stroke: #e377c2; stroke-opacity: 0.4"/>
     <circle cx="223.459447" cy="81.393326" r="2.2361" style="fill: #e377c2; fill-opacity: 0.4; stroke: #e377c2; stroke-opacity: 0.4"/>
     <circle cx="224.787348" cy="81.646293" r="2.2361" style="fill: #e377c2; fill-opacity: 0.4; stroke: #e377c2; stroke-opacity: 0.4"/>
     <circle cx="226.116216" cy="81.899443" r="2.2361" style="fill: #e377c2; fill-opacity: 0.4; stroke: #e377c2; stroke-opacity: 0.4"/>
     <circle cx="251.549886" cy="86.744581" r="2.2361" style="fill: #e377c2; fill-opacity: 0.4; stroke: #e377c2; stroke-opacity: 0.4"/>
     <circle cx="252.898321" cy="87.00146" r="2.2361" style="fill: #e377c2; fill-opacity: 0.4; stroke: #e377c2; stroke-opacity: 0.4"/>
     <circle cx="254.247746" cy="87.258526" r="2.2361" style="fill: #e377c2; fill-opacity: 0.4; stroke: #e377c2; stroke-opacity: 0.4"/>
     <circle cx="255.598162" cy="87.515782" r="2.2361" style="fill: #e377c2; fill-opacity: 0.4; stroke: #e377c2; stroke-opacity: 0.4"/>
     <circle cx="256.949569" cy="87.773226" r="2.2361" style="fill: #e377c2; fill-opacity: 0.4; stroke: #e377c2; stroke-opacity: 0.4"/>
     <circle cx="258.30197" cy="88.03086" r="2.2361" style="fill: #e377c2; fill-opacity: 0.4; stroke: #e377c2; stroke-opacity: 0.4"/>
     <circle cx="259.655364" cy="88.288683" r="2.2361" style="fill: #e377c2; fill-opacity: 0.4; stroke: #e377c2; stroke-opacity: 0.4"/>
     <circle cx="261.009754" cy="88.546695" r="2.2361" style="fill: #e377c2; fill-opacity: 0.4; stroke: #e377c2; stroke-opacity: 0.4"/>
     <circle cx="262.36514" cy="88.804897" r="2.2361" style="fill: #e377c2; fill-opacity: 0.4; stroke: #e377c2; stroke-opacity: 0.4"/>
     <circle cx="263.721523" cy="89.06329" r="2.2361" style="fill: #e377c2; fill-opacity: 0.4; stroke: #e377c2; stroke-opacity: 0.4"/>
     <circle cx="265.078905" cy="89.321872" r="2.2361" style="fill: #e377c2; fill-opacity: 0.4; stroke: #e377c2; stroke-opacity: 0.4"/>
     <circle cx="266.437286" cy="89.580645" r="2.2361" style="fill: #e377c2; fill-opacity: 0.4; stroke: #e377c2; stroke-opacity: 0.4"/>
     <circle cx="267.796668" cy="89.839609" r="2.2361" style="fill: #e377c2; fill-opacity: 0.4; stroke: #e377c2; stroke-opacity: 0.4"/>
     <circle cx="269.157051" cy="90.098763" r="2.2361" style="fill: #e377c2; fill-opacity: 0.4; stroke: #e377c2; stroke-opacity: 0.4"/>
     <circle cx="295.196156" cy="95.059237" r="2.2361" style="fill: #e377c2; fill-opacity: 0.4; stroke: #e377c2; stroke-opacity: 0.4"/>
     <circle cx="296.576809" cy="95.322253" r="2.2361" style="fill: #e377c2; fill-opacity: 0.4; stroke: #e377c2; stroke-opacity: 0.4"/>
     <circle cx="297.958488" cy="95.585464" r="2.2361" style="fill: #e377c2; fill-opacity: 0.4; stroke: #e377c2; stroke-opacity: 0.4"/>
     <circle cx="299.341193" cy="95.848871" r="2.2361" style="fill: #e377c2; fill-opacity: 0.4; stroke: #e377c2; stroke-opacity: 0.4"/>
     <circle cx="300.724926" cy="96.112473" r="2.2361" style="fill: #e377c2; fill-opacity: 0.4; stroke: #e377c2; stroke-opacity: 0.4"/>
     <circle cx="302.109688" cy="96.376271" r="2.2361" style="fill: #e377c2; fill-opacity: 0.4; stroke: #e377c2; stroke-opacity: 0.4"/>
     <circle cx="303.49548" cy="96.640266" r="2.2361" style="fill: #e377c2; fill-opacity: 0.4; stroke: #e377c2; stroke-opacity: 0.4"/>
     <circle cx="304.882302" cy="96.904457" r="2.2361" style="fill: #e377c2; fill-opacity: 0.4; stroke: #e377c2; stroke-opacity: 0.4"/>
     <circle cx="306.270157" cy="97.168845" r="2.2361" style="fill: #e377c2; fill-opacity: 0.4; stroke: #e377c2; stroke-opacity: 0.4"/>
     <circle cx="307.659046" cy="97.433429" r="2.2361" style="fill: #e377c2; fill-opacity: 0.4; stroke: #e377c2; stroke-opacity: 0.4"/>
     <circle cx="309.048969" cy="97.698211" r="2.2361" style="fill: #e377c2; fill-opacity: 0.4; stroke: #e377c2; stroke-opacity: 0.4"/>
     <circle cx="310.439927" cy="97.96319" r="2.2361" style="fill: #e377c2; fill-opacity: 0.4; stroke: #e377c2; stroke-opacity: 0.4"/>
     <circle cx="311.831923" cy="98.228366" r="2.2361" style="fill: #e377c2; fill-opacity: 0.4; stroke: #e377c2; stroke-opacity: 0.4"/>
     <circle cx="313.224957" cy="98.493741" r="2.2361" style="fill: #e377c2; fill-opacity: 0.4; stroke: #e377c2; stroke-opacity: 0.4"/>
    </g>
   </g>
   <g id="Path3DCollection_3">
    
    <g clip-path="url(#p0552d5e2ae)">
     <circle cx="176.844482" cy="184.07515" r="2.2361" style="fill: #8c564b; fill-opacity: 0.4; stroke: #8c564b; stroke-opacity: 0.4"/>
     <circle cx="178.098325" cy="184.352852" r="2.2361" style="fill: #8c564b; fill-opacity: 0.4; stroke: #8c564b; stroke-opacity: 0.4"/>
     <circle cx="179.353041" cy="184.630747" r="2.2361" style="fill: #8c564b; fill-opacity: 0.4; stroke: #8c564b; stroke-opacity: 0.4"/>
     <circle cx="180.608631" cy="184.908836" r="2.2361" style="fill: #8c564b; fill-opacity: 0.4; stroke: #8c564b; stroke-opacity: 0.4"/>
     <circle cx="181.865097" cy="185.187119" r="2.2361" style="fill: #8c564b; fill-opacity: 0.4; stroke: #8c564b; stroke-opacity: 0.4"/>
     <circle cx="183.122439" cy="185.465596" r="2.2361" style="fill: #8c564b; fill-opacity: 0.4; stroke: #8c564b; stroke-opacity: 0.4"/>
     <circle cx="184.380658" cy="185.744267" r="2.2361" style="fill: #8c564b; fill-opacity: 0.4; stroke: #8c564b; stroke-opacity: 0.4"/>
     <circle cx="185.639755" cy="186.023132" r="2.2361" style="fill: #8c564b; fill-opacity: 0.4; stroke: #8c564b; stroke-opacity: 0.4"/>
     <circle cx="186.89973" cy="186.302192" r="2.2361" style="fill: #8c564b; fill-opacity: 0.4; stroke: #8c564b; stroke-opacity: 0.4"/>
     <circle cx="188.160586" cy="186.581447" r="2.2361" style="fill: #8c564b; fill-opacity: 0.4; stroke: #8c564b; stroke-opacity: 0.4"/>
     <circle cx="189.422323" cy="186.860897" r="2.2361" style="fill: #8c564b; fill-opacity: 0.4; stroke: #8c564b; stroke-opacity: 0.4"/>
     <circle cx="190.684941" cy="187.140543" r="2.2361" style="fill: #8c564b; fill-opacity: 0.4; stroke: #8c564b; stroke-opacity: 0.4"/>
     <circle cx="191.948442" cy="187.420384" r="2.2361" style="fill: #8c564b; fill-opacity: 0.4; stroke: #8c564b; stroke-opacity: 0.4"/>
     <circle cx="193.212826" cy="187.70042" r="2.2361" style="fill: #8c564b; fill-opacity: 0.4; stroke: #8c564b; stroke-opacity: 0.4"/>
     <circle cx="198.279217" cy="188.822527" r="2.2361" style="fill: #8c564b; fill-opacity: 0.4; stroke: #8c564b; stroke-opacity: 0.4"/>
     <circle cx="199.548033" cy="189.103545" r="2.2361" style="fill: #8c564b; fill-opacity: 0.4; stroke: #8c564b; stroke-opacity: 0.4"/>
     <circle cx="200.817739" cy="189.38476" r="2.2361" style="fill: #8c564b; fill-opacity: 0.4; stroke: #8c564b; stroke-opacity: 0.4"/>
     <circle cx="202.088334" cy="189.666173" r="2.2361" style="fill: #8c564b; fill-opacity: 0.4; stroke: #8c564b; stroke-opacity: 0.4"/>
     <circle cx="203.35982" cy="189.947782" r="2.2361" style="fill: #8c564b; fill-opacity: 0.4; stroke: #8c564b; stroke-opacity: 0.4"/>
     <circle cx="204.632198" cy="190.229589" r="2.2361" style="fill: #8c564b; fill-opacity: 0.4; stroke: #8c564b; stroke-opacity: 0.4"/>
     <circle cx="205.905469" cy="190.511594" r="2.2361" style="fill: #8c564b; fill-opacity: 0.4; stroke: #8c564b; stroke-opacity: 0.4"/>
     <circle cx="207.179634" cy="190.793797" r="2.2361" style="fill: #8c564b; fill-opacity: 0.4; stroke: #8c564b; stroke-opacity: 0.4"/>
     <circle cx="208.454693" cy="191.076197" r="2.2361" style="fill: #8c564b; fill-opacity: 0.4; stroke: #8c564b; stroke-opacity: 0.4"/>
     <circle cx="209.730648" cy="191.358797" r="2.2361" style="fill: #8c564b; fill-opacity: 0.4; stroke: #8c564b; stroke-opacity: 0.4"/>
     <circle cx="211.0075" cy="191.641595" r="2.2361" style="fill: #8c564b; fill-opacity: 0.4; stroke: #8c564b; stroke-opacity: 0.4"/>
     <circle cx="212.28525" cy="191.924591" r="2.2361" style="fill: #8c564b; fill-opacity: 0.4; stroke: #8c564b; stroke-opacity: 0.4"/>
     <circle cx="213.563898" cy="192.207787" r="2.2361" style="fill: #8c564b; fill-opacity: 0.4; stroke: #8c564b; stroke-opacity: 0.4"/>
     <circle cx="214.843445" cy="192.491182" r="2.2361" style="fill: #8c564b; fill-opacity: 0.4; stroke: #8c564b; stroke-opacity: 0.4"/>
     <circle cx="216.123893" cy="192.774776" r="2.2361" style="fill: #8c564b; fill-opacity: 0.4; stroke: #8c564b; stroke-opacity: 0.4"/>
     <circle cx="217.405242" cy="193.05857" r="2.2361" style="fill: #8c564b; fill-opacity: 0.4; stroke: #8c564b; stroke-opacity: 0.4"/>
     <circle cx="218.687494" cy="193.342564" r="2.2361" style="fill: #8c564b; fill-opacity: 0.4; stroke: #8c564b; stroke-opacity: 0.4"/>
     <circle cx="219.970649" cy="193.626758" r="2.2361" style="fill: #8c564b; fill-opacity: 0.4; stroke: #8c564b; stroke-opacity: 0.4"/>
     <circle cx="221.254708" cy="193.911152" r="2.2361" style="fill: #8c564b; fill-opacity: 0.4; stroke: #8c564b; stroke-opacity: 0.4"/>
     <circle cx="222.539672" cy="194.195746" r="2.2361" style="fill: #8c564b; fill-opacity: 0.4; stroke: #8c564b; stroke-opacity: 0.4"/>
     <circle cx="223.825543" cy="194.480542" r="2.2361" style="fill: #8c564b; fill-opacity: 0.4; stroke: #8c564b; stroke-opacity: 0.4"/>
     <circle cx="225.11232" cy="194.765538" r="2.2361" style="fill: #8c564b; fill-opacity: 0.4; stroke: #8c564b; stroke-opacity: 0.4"/>
     <circle cx="226.400006" cy="195.050735" r="2.2361" style="fill: #8c564b; fill-opacity: 0.4; stroke: #8c564b; stroke-opacity: 0.4"/>
     <circle cx="227.6886" cy="195.336134" r="2.2361" style="fill: #8c564b; fill-opacity: 0.4; stroke: #8c564b; stroke-opacity: 0.4"/>
     <circle cx="228.978105" cy="195.621734" r="2.2361" style="fill: #8c564b; fill-opacity: 0.4; stroke: #8c564b; stroke-opacity: 0.4"/>
     <circle cx="230.268521" cy="195.907536" r="2.2361" style="fill: #8c564b; fill-opacity: 0.4; stroke: #8c564b; stroke-opacity: 0.4"/>
     <circle cx="231.559848" cy="196.19354" r="2.2361" style="fill: #8c564b; fill-opacity: 0.4; stroke: #8c564b; stroke-opacity: 0.4"/>
     <circle cx="232.852089" cy="196.479746" r="2.2361" style="fill: #8c564b; fill-opacity: 0.4; stroke: #8c564b; stroke-opacity: 0.4"/>
     <circle cx="234.145243" cy="196.766155" r="2.2361" style="fill: #8c564b; fill-opacity: 0.4; stroke: #8c564b; stroke-opacity: 0.4"/>
     <circle cx="239.327018" cy="197.913817" r="2.2361" style="fill: #8c564b; fill-opacity: 0.4; stroke: #8c564b; stroke-opacity: 0.4"/>
     <circle cx="240.624757" cy="198.201241" r="2.2361" style="fill: #8c564b; fill-opacity: 0.4; stroke: #8c564b; stroke-opacity: 0.4"/>
     <circle cx="241.923415" cy="198.488868" r="2.2361" style="fill: #8c564b; fill-opacity: 0.4; stroke: #8c564b; stroke-opacity: 0.4"/>
     <circle cx="243.222993" cy="198.7767" r="2.2361" style="fill: #8c564b; fill-opacity: 0.4; stroke: #8c564b; stroke-opacity: 0.4"/>
     <circle cx="244.523493" cy="199.064735" r="2.2361" style="fill: #8c564b; fill-opacity: 0.4; stroke: #8c564b; stroke-opacity: 0.4"/>
     <circle cx="245.824916" cy="199.352975" r="2.2361" style="fill: #8c564b; fill-opacity: 0.4; stroke: #8c564b; stroke-opacity: 0.4"/>
     <circle cx="247.127263" cy="199.64142" r="2.2361" style="fill: #8c564b; fill-opacity: 0.4; stroke: #8c564b; stroke-opacity: 0.4"/>
     <circle cx="248.430534" cy="199.930069" r="2.2361" style="fill: #8c564b; fill-opacity: 0.4; stroke: #8c564b; stroke-opacity: 0.4"/>
     <circle cx="249.734731" cy="200.218923" r="2.2361" style="fill: #8c564b; fill-opacity: 0.4; stroke: #8c564b; stroke-opacity: 0.4"/>
     <circle cx="251.039854" cy="200.507982" r="2.2361" style="fill: #8c564b; fill-opacity: 0.4; stroke: #8c564b; stroke-opacity: 0.4"/>
     <circle cx="252.345905" cy="200.797247" r="2.2361" style="fill: #8c564b; fill-opacity: 0.4; stroke: #8c564b; stroke-opacity: 0.4"/>
     <circle cx="253.652884" cy="201.086718" r="2.2361" style="fill: #8c564b; fill-opacity: 0.4; stroke: #8c564b; stroke-opacity: 0.4"/>
     <circle cx="254.960793" cy="201.376394" r="2.2361" style="fill: #8c564b; fill-opacity: 0.4; stroke: #8c564b; stroke-opacity: 0.4"/>
     <circle cx="256.269633" cy="201.666277" r="2.2361" style="fill: #8c564b; fill-opacity: 0.4; stroke: #8c564b; stroke-opacity: 0.4"/>
     <circle cx="257.579404" cy="201.956366" r="2.2361" style="fill: #8c564b; fill-opacity: 0.4; stroke: #8c564b; stroke-opacity: 0.4"/>
     <circle cx="258.890107" cy="202.246661" r="2.2361" style="fill: #8c564b; fill-opacity: 0.4; stroke: #8c564b; stroke-opacity: 0.4"/>
     <circle cx="260.201744" cy="202.537163" r="2.2361" style="fill: #8c564b; fill-opacity: 0.4; stroke: #8c564b; stroke-opacity: 0.4"/>
     <circle cx="261.514316" cy="202.827872" r="2.2361" style="fill: #8c564b; fill-opacity: 0.4; stroke: #8c564b; stroke-opacity: 0.4"/>
     <circle cx="262.827823" cy="203.118788" r="2.2361" style="fill: #8c564b; fill-opacity: 0.4; stroke: #8c564b; stroke-opacity: 0.4"/>
     <circle cx="264.142266" cy="203.409912" r="2.2361" style="fill: #8c564b; fill-opacity: 0.4; stroke: #8c564b; stroke-opacity: 0.4"/>
     <circle cx="265.457648" cy="203.701243" r="2.2361" style="fill: #8c564b; fill-opacity: 0.4; stroke: #8c564b; stroke-opacity: 0.4"/>
     <circle cx="266.773967" cy="203.992783" r="2.2361" style="fill: #8c564b; fill-opacity: 0.4; stroke: #8c564b; stroke-opacity: 0.4"/>
     <circle cx="268.091226" cy="204.28453" r="2.2361" style="fill: #8c564b; fill-opacity: 0.4; stroke: #8c564b; stroke-opacity: 0.4"/>
     <circle cx="269.409426" cy="204.576486" r="2.2361" style="fill: #8c564b; fill-opacity: 0.4; stroke: #8c564b; stroke-opacity: 0.4"/>
     <circle cx="270.728567" cy="204.86865" r="2.2361" style="fill: #8c564b; fill-opacity: 0.4; stroke: #8c564b; stroke-opacity: 0.4"/>
     <circle cx="272.048651" cy="205.161023" r="2.2361" style="fill: #8c564b; fill-opacity: 0.4; stroke: #8c564b; stroke-opacity: 0.4"/>
     <circle cx="273.369679" cy="205.453604" r="2.2361" style="fill: #8c564b; fill-opacity: 0.4; stroke: #8c564b; stroke-opacity: 0.4"/>
     <circle cx="274.69165" cy="205.746396" r="2.2361" style="fill: #8c564b; fill-opacity: 0.4; stroke: #8c564b; stroke-opacity: 0.4"/>
     <circle cx="276.014568" cy="206.039396" r="2.2361" style="fill: #8c564b; fill-opacity: 0.4; stroke: #8c564b; stroke-opacity: 0.4"/>
     <circle cx="281.315714" cy="207.213497" r="2.2361" style="fill: #8c564b; fill-opacity: 0.4; stroke: #8c564b; stroke-opacity: 0.4"/>
     <circle cx="282.643375" cy="207.507548" r="2.2361" style="fill: #8c564b; fill-opacity: 0.4; stroke: #8c564b; stroke-opacity: 0.4"/>
     <circle cx="283.971988" cy="207.80181" r="2.2361" style="fill: #8c564b; fill-opacity: 0.4; stroke: #8c564b; stroke-opacity: 0.4"/>
     <circle cx="285.301553" cy="208.096283" r="2.2361" style="fill: #8c564b; fill-opacity: 0.4; stroke: #8c564b; stroke-opacity: 0.4"/>
     <circle cx="286.632072" cy="208.390967" r="2.2361" style="fill: #8c564b; fill-opacity: 0.4; stroke: #8c564b; stroke-opacity: 0.4"/>
     <circle cx="287.963545" cy="208.685862" r="2.2361" style="fill: #8c564b; fill-opacity: 0.4; stroke: #8c564b; stroke-opacity: 0.4"/>
     <circle cx="289.295975" cy="208.980969" r="2.2361" style="fill: #8c564b; fill-opacity: 0.4; stroke: #8c564b; stroke-opacity: 0.4"/>
     <circle cx="290.629361" cy="209.276289" r="2.2361" style="fill: #8c564b; fill-opacity: 0.4; stroke: #8c564b; stroke-opacity: 0.4"/>
     <circle cx="291.963705" cy="209.57182" r="2.2361" style="fill: #8c564b; fill-opacity: 0.4; stroke: #8c564b; stroke-opacity: 0.4"/>
     <circle cx="293.299008" cy="209.867564" r="2.2361" style="fill: #8c564b; fill-opacity: 0.4; stroke: #8c564b; stroke-opacity: 0.4"/>
     <circle cx="294.635271" cy="210.16352" r="2.2361" style="fill: #8c564b; fill-opacity: 0.4; stroke: #8c564b; stroke-opacity: 0.4"/>
     <circle cx="295.972495" cy="210.459689" r="2.2361" style="fill: #8c564b; fill-opacity: 0.4; stroke: #8c564b; stroke-opacity: 0.4"/>
     <circle cx="297.310681" cy="210.756071" r="2.2361" style="fill: #8c564b; fill-opacity: 0.4; stroke: #8c564b; stroke-opacity: 0.4"/>
     <circle cx="298.64983" cy="211.052667" r="2.2361" style="fill: #8c564b; fill-opacity: 0.4; stroke: #8c564b; stroke-opacity: 0.4"/>
     <circle cx="299.989943" cy="211.349476" r="2.2361" style="fill: #8c564b; fill-opacity: 0.4; stroke: #8c564b; stroke-opacity: 0.4"/>
     <circle cx="301.331021" cy="211.646498" r="2.2361" style="fill: #8c564b; fill-opacity: 0.4; stroke: #8c564b; stroke-opacity: 0.4"/>
     <circle cx="302.673066" cy="211.943735" r="2.2361" style="fill: #8c564b; fill-opacity: 0.4; stroke: #8c564b; stroke-opacity: 0.4"/>
     <circle cx="304.016077" cy="212.241186" r="2.2361" style="fill: #8c564b; fill-opacity: 0.4; stroke: #8c564b; stroke-opacity: 0.4"/>
     <circle cx="305.360057" cy="212.538851" r="2.2361" style="fill: #8c564b; fill-opacity: 0.4; stroke: #8c564b; stroke-opacity: 0.4"/>
     <circle cx="306.705006" cy="212.836731" r="2.2361" style="fill: #8c564b; fill-opacity: 0.4; stroke: #8c564b; stroke-opacity: 0.4"/>
     <circle cx="308.050926" cy="213.134826" r="2.2361" style="fill: #8c564b; fill-opacity: 0.4; stroke: #8c564b; stroke-opacity: 0.4"/>
     <circle cx="309.397817" cy="213.433137" r="2.2361" style="fill: #8c564b; fill-opacity: 0.4; stroke: #8c564b; stroke-opacity: 0.4"/>
     <circle cx="310.74568" cy="213.731662" r="2.2361" style="fill: #8c564b; fill-opacity: 0.4; stroke: #8c564b; stroke-opacity: 0.4"/>
     <circle cx="312.094517" cy="214.030403" r="2.2361" style="fill: #8c564b; fill-opacity: 0.4; stroke: #8c564b; stroke-opacity: 0.4"/>
     <circle cx="313.444328" cy="214.32936" r="2.2361" style="fill: #8c564b; fill-opacity: 0.4; stroke: #8c564b; stroke-opacity: 0.4"/>
     <circle cx="314.795115" cy="214.628533" r="2.2361" style="fill: #8c564b; fill-opacity: 0.4; stroke: #8c564b; stroke-opacity: 0.4"/>
     <circle cx="316.146879" cy="214.927923" r="2.2361" style="fill: #8c564b; fill-opacity: 0.4; stroke: #8c564b; stroke-opacity: 0.4"/>
     <circle cx="194.285714" cy="84.818234" r="2.2361" style="fill: #8c564b; fill-opacity: 0.4; stroke: #8c564b; stroke-opacity: 0.4"/>
     <circle cx="195.60949" cy="85.0737" r="2.2361" style="fill: #8c564b; fill-opacity: 0.4; stroke: #8c564b; stroke-opacity: 0.4"/>
     <circle cx="204.903108" cy="86.867213" r="2.2361" style="fill: #8c564b; fill-opacity: 0.4; stroke: #8c564b; stroke-opacity: 0.4"/>
     <circle cx="215.582991" cy="88.928252" r="2.2361" style="fill: #8c564b; fill-opacity: 0.4; stroke: #8c564b; stroke-opacity: 0.4"/>
     <circle cx="237.132444" cy="93.086936" r="2.2361" style="fill: #8c564b; fill-opacity: 0.4; stroke: #8c564b; stroke-opacity: 0.4"/>
     <circle cx="238.48776" cy="93.34849" r="2.2361" style="fill: #8c564b; fill-opacity: 0.4; stroke: #8c564b; stroke-opacity: 0.4"/>
     <circle cx="248.00314" cy="95.184799" r="2.2361" style="fill: #8c564b; fill-opacity: 0.4; stroke: #8c564b; stroke-opacity: 0.4"/>
     <circle cx="258.938578" cy="97.295155" r="2.2361" style="fill: #8c564b; fill-opacity: 0.4; stroke: #8c564b; stroke-opacity: 0.4"/>
     <circle cx="281.006006" cy="101.5538" r="2.2361" style="fill: #8c564b; fill-opacity: 0.4; stroke: #8c564b; stroke-opacity: 0.4"/>
     <circle cx="282.394003" cy="101.82166" r="2.2361" style="fill: #8c564b; fill-opacity: 0.4; stroke: #8c564b; stroke-opacity: 0.4"/>
     <circle cx="292.139178" cy="103.702316" r="2.2361" style="fill: #8c564b; fill-opacity: 0.4; stroke: #8c564b; stroke-opacity: 0.4"/>
     <circle cx="303.339454" cy="105.863782" r="2.2361" style="fill: #8c564b; fill-opacity: 0.4; stroke: #8c564b; stroke-opacity: 0.4"/>
    </g>
   </g>
   <g id="Path3DCollection_4">
    
    <g clip-path="url(#p0552d5e2ae)">
     <circle cx="165.044498" cy="191.493804" r="2.2361" style="fill: #9467bd; fill-opacity: 0.4; stroke: #9467bd; stroke-opacity: 0.4"/>
     <circle cx="166.30586" cy="191.776696" r="2.2361" style="fill: #9467bd; fill-opacity: 0.4; stroke: #9467bd; stroke-opacity: 0.4"/>
     <circle cx="167.56811" cy="192.059788" r="2.2361" style="fill: #9467bd; fill-opacity: 0.4; stroke: #9467bd; stroke-opacity: 0.4"/>
     <circle cx="168.831247" cy="192.343079" r="2.2361" style="fill: #9467bd; fill-opacity: 0.4; stroke: #9467bd; stroke-opacity: 0.4"/>
     <circle cx="170.095273" cy="192.626569" r="2.2361" style="fill: #9467bd; fill-opacity: 0.4; stroke: #9467bd; stroke-opacity: 0.4"/>
     <circle cx="171.360188" cy="192.910258" r="2.2361" style="fill: #9467bd; fill-opacity: 0.4; stroke: #9467bd; stroke-opacity: 0.4"/>
     <circle cx="172.625995" cy="193.194148" r="2.2361" style="fill: #9467bd; fill-opacity: 0.4; stroke: #9467bd; stroke-opacity: 0.4"/>
     <circle cx="173.892692" cy="193.478237" r="2.2361" style="fill: #9467bd; fill-opacity: 0.4; stroke: #9467bd; stroke-opacity: 0.4"/>
     <circle cx="175.160282" cy="193.762527" r="2.2361" style="fill: #9467bd; fill-opacity: 0.4; stroke: #9467bd; stroke-opacity: 0.4"/>
     <circle cx="176.428766" cy="194.047016" r="2.2361" style="fill: #9467bd; fill-opacity: 0.4; stroke: #9467bd; stroke-opacity: 0.4"/>
     <circle cx="177.698144" cy="194.331707" r="2.2361" style="fill: #9467bd; fill-opacity: 0.4; stroke: #9467bd; stroke-opacity: 0.4"/>
     <circle cx="182.784618" cy="195.472479" r="2.2361" style="fill: #9467bd; fill-opacity: 0.4; stroke: #9467bd; stroke-opacity: 0.4"/>
     <circle cx="184.058482" cy="195.758175" r="2.2361" style="fill: #9467bd; fill-opacity: 0.4; stroke: #9467bd; stroke-opacity: 0.4"/>
     <circle cx="204.563367" cy="200.356919" r="2.2361" style="fill: #9467bd; fill-opacity: 0.4; stroke: #9467bd; stroke-opacity: 0.4"/>
     <circle cx="205.852663" cy="200.646076" r="2.2361" style="fill: #9467bd; fill-opacity: 0.4; stroke: #9467bd; stroke-opacity: 0.4"/>
     <circle cx="207.142875" cy="200.93544" r="2.2361" style="fill: #9467bd; fill-opacity: 0.4; stroke: #9467bd; stroke-opacity: 0.4"/>
     <circle cx="208.434005" cy="201.225008" r="2.2361" style="fill: #9467bd; fill-opacity: 0.4; stroke: #9467bd; stroke-opacity: 0.4"/>
     <circle cx="209.726053" cy="201.514783" r="2.2361" style="fill: #9467bd; fill-opacity: 0.4; stroke: #9467bd; stroke-opacity: 0.4"/>
     <circle cx="211.019021" cy="201.804764" r="2.2361" style="fill: #9467bd; fill-opacity: 0.4; stroke: #9467bd; stroke-opacity: 0.4"/>
     <circle cx="212.312908" cy="202.094951" r="2.2361" style="fill: #9467bd; fill-opacity: 0.4; stroke: #9467bd; stroke-opacity: 0.4"/>
     <circle cx="213.607718" cy="202.385346" r="2.2361" style="fill: #9467bd; fill-opacity: 0.4; stroke: #9467bd; stroke-opacity: 0.4"/>
     <circle cx="214.903449" cy="202.675946" r="2.2361" style="fill: #9467bd; fill-opacity: 0.4; stroke: #9467bd; stroke-opacity: 0.4"/>
     <circle cx="216.200104" cy="202.966754" r="2.2361" style="fill: #9467bd; fill-opacity: 0.4; stroke: #9467bd; stroke-opacity: 0.4"/>
     <circle cx="217.497684" cy="203.25777" r="2.2361" style="fill: #9467bd; fill-opacity: 0.4; stroke: #9467bd; stroke-opacity: 0.4"/>
     <circle cx="218.796188" cy="203.548993" r="2.2361" style="fill: #9467bd; fill-opacity: 0.4; stroke: #9467bd; stroke-opacity: 0.4"/>
     <circle cx="223.99948" cy="204.715964" r="2.2361" style="fill: #9467bd; fill-opacity: 0.4; stroke: #9467bd; stroke-opacity: 0.4"/>
     <circle cx="225.302626" cy="205.008227" r="2.2361" style="fill: #9467bd; fill-opacity: 0.4; stroke: #9467bd; stroke-opacity: 0.4"/>
     <circle cx="246.280301" cy="209.713006" r="2.2361" style="fill: #9467bd; fill-opacity: 0.4; stroke: #9467bd; stroke-opacity: 0.4"/>
     <circle cx="247.599416" cy="210.008852" r="2.2361" style="fill: #9467bd; fill-opacity: 0.4; stroke: #9467bd; stroke-opacity: 0.4"/>
     <circle cx="248.919479" cy="210.30491" r="2.2361" style="fill: #9467bd; fill-opacity: 0.4; stroke: #9467bd; stroke-opacity: 0.4"/>
     <circle cx="250.240492" cy="210.60118" r="2.2361" style="fill: #9467bd; fill-opacity: 0.4; stroke: #9467bd; stroke-opacity: 0.4"/>
     <circle cx="251.562455" cy="210.897664" r="2.2361" style="fill: #9467bd; fill-opacity: 0.4; stroke: #9467bd; stroke-opacity: 0.4"/>
     <circle cx="252.88537" cy="211.194362" r="2.2361" style="fill: #9467bd; fill-opacity: 0.4; stroke: #9467bd; stroke-opacity: 0.4"/>
     <circle cx="254.209237" cy="211.491273" r="2.2361" style="fill: #9467bd; fill-opacity: 0.4; stroke: #9467bd; stroke-opacity: 0.4"/>
     <circle cx="255.534058" cy="211.788398" r="2.2361" style="fill: #9467bd; fill-opacity: 0.4; stroke: #9467bd; stroke-opacity: 0.4"/>
     <circle cx="256.859833" cy="212.085737" r="2.2361" style="fill: #9467bd; fill-opacity: 0.4; stroke: #9467bd; stroke-opacity: 0.4"/>
     <circle cx="258.186564" cy="212.38329" r="2.2361" style="fill: #9467bd; fill-opacity: 0.4; stroke: #9467bd; stroke-opacity: 0.4"/>
     <circle cx="259.514252" cy="212.681058" r="2.2361" style="fill: #9467bd; fill-opacity: 0.4; stroke: #9467bd; stroke-opacity: 0.4"/>
     <circle cx="260.842898" cy="212.97904" r="2.2361" style="fill: #9467bd; fill-opacity: 0.4; stroke: #9467bd; stroke-opacity: 0.4"/>
     <circle cx="266.167077" cy="214.173124" r="2.2361" style="fill: #9467bd; fill-opacity: 0.4; stroke: #9467bd; stroke-opacity: 0.4"/>
     <circle cx="267.500527" cy="214.472184" r="2.2361" style="fill: #9467bd; fill-opacity: 0.4; stroke: #9467bd; stroke-opacity: 0.4"/>
     <circle cx="288.967535" cy="219.286708" r="2.2361" style="fill: #9467bd; fill-opacity: 0.4; stroke: #9467bd; stroke-opacity: 0.4"/>
     <circle cx="290.317515" cy="219.589476" r="2.2361" style="fill: #9467bd; fill-opacity: 0.4; stroke: #9467bd; stroke-opacity: 0.4"/>
     <circle cx="291.668477" cy="219.892464" r="2.2361" style="fill: #9467bd; fill-opacity: 0.4; stroke: #9467bd; stroke-opacity: 0.4"/>
     <circle cx="293.020422" cy="220.195672" r="2.2361" style="fill: #9467bd; fill-opacity: 0.4; stroke: #9467bd; stroke-opacity: 0.4"/>
     <circle cx="294.373352" cy="220.499101" r="2.2361" style="fill: #9467bd; fill-opacity: 0.4; stroke: #9467bd; stroke-opacity: 0.4"/>
     <circle cx="295.727266" cy="220.802751" r="2.2361" style="fill: #9467bd; fill-opacity: 0.4; stroke: #9467bd; stroke-opacity: 0.4"/>
     <circle cx="297.082167" cy="221.106622" r="2.2361" style="fill: #9467bd; fill-opacity: 0.4; stroke: #9467bd; stroke-opacity: 0.4"/>
     <circle cx="298.438055" cy="221.410714" r="2.2361" style="fill: #9467bd; fill-opacity: 0.4; stroke: #9467bd; stroke-opacity: 0.4"/>
     <circle cx="299.794931" cy="221.715028" r="2.2361" style="fill: #9467bd; fill-opacity: 0.4; stroke: #9467bd; stroke-opacity: 0.4"/>
     <circle cx="301.152797" cy="222.019565" r="2.2361" style="fill: #9467bd; fill-opacity: 0.4; stroke: #9467bd; stroke-opacity: 0.4"/>
     <circle cx="302.511654" cy="222.324323" r="2.2361" style="fill: #9467bd; fill-opacity: 0.4; stroke: #9467bd; stroke-opacity: 0.4"/>
     <circle cx="303.871502" cy="222.629303" r="2.2361" style="fill: #9467bd; fill-opacity: 0.4; stroke: #9467bd; stroke-opacity: 0.4"/>
     <circle cx="176.733542" cy="90.605954" r="2.2361" style="fill: #9467bd; fill-opacity: 0.4; stroke: #9467bd; stroke-opacity: 0.4"/>
     <circle cx="178.061819" cy="90.865674" r="2.2361" style="fill: #9467bd; fill-opacity: 0.4; stroke: #9467bd; stroke-opacity: 0.4"/>
     <circle cx="182.052535" cy="91.645983" r="2.2361" style="fill: #9467bd; fill-opacity: 0.4; stroke: #9467bd; stroke-opacity: 0.4"/>
     <circle cx="183.384739" cy="91.90647" r="2.2361" style="fill: #9467bd; fill-opacity: 0.4; stroke: #9467bd; stroke-opacity: 0.4"/>
     <circle cx="184.717928" cy="92.16715" r="2.2361" style="fill: #9467bd; fill-opacity: 0.4; stroke: #9467bd; stroke-opacity: 0.4"/>
     <circle cx="186.052103" cy="92.428023" r="2.2361" style="fill: #9467bd; fill-opacity: 0.4; stroke: #9467bd; stroke-opacity: 0.4"/>
     <circle cx="187.387265" cy="92.689089" r="2.2361" style="fill: #9467bd; fill-opacity: 0.4; stroke: #9467bd; stroke-opacity: 0.4"/>
     <circle cx="188.723414" cy="92.950348" r="2.2361" style="fill: #9467bd; fill-opacity: 0.4; stroke: #9467bd; stroke-opacity: 0.4"/>
     <circle cx="190.060552" cy="93.2118" r="2.2361" style="fill: #9467bd; fill-opacity: 0.4; stroke: #9467bd; stroke-opacity: 0.4"/>
     <circle cx="191.398681" cy="93.473446" r="2.2361" style="fill: #9467bd; fill-opacity: 0.4; stroke: #9467bd; stroke-opacity: 0.4"/>
     <circle cx="192.7378" cy="93.735285" r="2.2361" style="fill: #9467bd; fill-opacity: 0.4; stroke: #9467bd; stroke-opacity: 0.4"/>
     <circle cx="194.077912" cy="93.997319" r="2.2361" style="fill: #9467bd; fill-opacity: 0.4; stroke: #9467bd; stroke-opacity: 0.4"/>
     <circle cx="195.419018" cy="94.259547" r="2.2361" style="fill: #9467bd; fill-opacity: 0.4; stroke: #9467bd; stroke-opacity: 0.4"/>
     <circle cx="196.761118" cy="94.521969" r="2.2361" style="fill: #9467bd; fill-opacity: 0.4; stroke: #9467bd; stroke-opacity: 0.4"/>
     <circle cx="198.104213" cy="94.784586" r="2.2361" style="fill: #9467bd; fill-opacity: 0.4; stroke: #9467bd; stroke-opacity: 0.4"/>
     <circle cx="199.448305" cy="95.047398" r="2.2361" style="fill: #9467bd; fill-opacity: 0.4; stroke: #9467bd; stroke-opacity: 0.4"/>
     <circle cx="200.793395" cy="95.310405" r="2.2361" style="fill: #9467bd; fill-opacity: 0.4; stroke: #9467bd; stroke-opacity: 0.4"/>
     <circle cx="202.139484" cy="95.573607" r="2.2361" style="fill: #9467bd; fill-opacity: 0.4; stroke: #9467bd; stroke-opacity: 0.4"/>
     <circle cx="219.730051" cy="99.013111" r="2.2361" style="fill: #9467bd; fill-opacity: 0.4; stroke: #9467bd; stroke-opacity: 0.4"/>
     <circle cx="221.090243" cy="99.279071" r="2.2361" style="fill: #9467bd; fill-opacity: 0.4; stroke: #9467bd; stroke-opacity: 0.4"/>
     <circle cx="225.176917" cy="100.078143" r="2.2361" style="fill: #9467bd; fill-opacity: 0.4; stroke: #9467bd; stroke-opacity: 0.4"/>
     <circle cx="226.541178" cy="100.344899" r="2.2361" style="fill: #9467bd; fill-opacity: 0.4; stroke: #9467bd; stroke-opacity: 0.4"/>
     <circle cx="227.90646" cy="100.611854" r="2.2361" style="fill: #9467bd; fill-opacity: 0.4; stroke: #9467bd; stroke-opacity: 0.4"/>
     <circle cx="229.272764" cy="100.879009" r="2.2361" style="fill: #9467bd; fill-opacity: 0.4; stroke: #9467bd; stroke-opacity: 0.4"/>
     <circle cx="230.64009" cy="101.146364" r="2.2361" style="fill: #9467bd; fill-opacity: 0.4; stroke: #9467bd; stroke-opacity: 0.4"/>
     <circle cx="232.00844" cy="101.413919" r="2.2361" style="fill: #9467bd; fill-opacity: 0.4; stroke: #9467bd; stroke-opacity: 0.4"/>
     <circle cx="233.377815" cy="101.681674" r="2.2361" style="fill: #9467bd; fill-opacity: 0.4; stroke: #9467bd; stroke-opacity: 0.4"/>
     <circle cx="234.748216" cy="101.94963" r="2.2361" style="fill: #9467bd; fill-opacity: 0.4; stroke: #9467bd; stroke-opacity: 0.4"/>
     <circle cx="236.119644" cy="102.217787" r="2.2361" style="fill: #9467bd; fill-opacity: 0.4; stroke: #9467bd; stroke-opacity: 0.4"/>
     <circle cx="237.492101" cy="102.486145" r="2.2361" style="fill: #9467bd; fill-opacity: 0.4; stroke: #9467bd; stroke-opacity: 0.4"/>
     <circle cx="238.865587" cy="102.754705" r="2.2361" style="fill: #9467bd; fill-opacity: 0.4; stroke: #9467bd; stroke-opacity: 0.4"/>
     <circle cx="240.240104" cy="103.023466" r="2.2361" style="fill: #9467bd; fill-opacity: 0.4; stroke: #9467bd; stroke-opacity: 0.4"/>
     <circle cx="241.615653" cy="103.292428" r="2.2361" style="fill: #9467bd; fill-opacity: 0.4; stroke: #9467bd; stroke-opacity: 0.4"/>
     <circle cx="242.992235" cy="103.561593" r="2.2361" style="fill: #9467bd; fill-opacity: 0.4; stroke: #9467bd; stroke-opacity: 0.4"/>
     <circle cx="244.369852" cy="103.83096" r="2.2361" style="fill: #9467bd; fill-opacity: 0.4; stroke: #9467bd; stroke-opacity: 0.4"/>
     <circle cx="245.748503" cy="104.100529" r="2.2361" style="fill: #9467bd; fill-opacity: 0.4; stroke: #9467bd; stroke-opacity: 0.4"/>
     <circle cx="263.765729" cy="107.623458" r="2.2361" style="fill: #9467bd; fill-opacity: 0.4; stroke: #9467bd; stroke-opacity: 0.4"/>
     <circle cx="265.158999" cy="107.895886" r="2.2361" style="fill: #9467bd; fill-opacity: 0.4; stroke: #9467bd; stroke-opacity: 0.4"/>
     <circle cx="269.345134" cy="108.714406" r="2.2361" style="fill: #9467bd; fill-opacity: 0.4; stroke: #9467bd; stroke-opacity: 0.4"/>
     <circle cx="270.742624" cy="108.987659" r="2.2361" style="fill: #9467bd; fill-opacity: 0.4; stroke: #9467bd; stroke-opacity: 0.4"/>
     <circle cx="272.141172" cy="109.261118" r="2.2361" style="fill: #9467bd; fill-opacity: 0.4; stroke: #9467bd; stroke-opacity: 0.4"/>
     <circle cx="273.540779" cy="109.534785" r="2.2361" style="fill: #9467bd; fill-opacity: 0.4; stroke: #9467bd; stroke-opacity: 0.4"/>
     <circle cx="274.941447" cy="109.808659" r="2.2361" style="fill: #9467bd; fill-opacity: 0.4; stroke: #9467bd; stroke-opacity: 0.4"/>
     <circle cx="276.343175" cy="110.082741" r="2.2361" style="fill: #9467bd; fill-opacity: 0.4; stroke: #9467bd; stroke-opacity: 0.4"/>
     <circle cx="277.745967" cy="110.35703" r="2.2361" style="fill: #9467bd; fill-opacity: 0.4; stroke: #9467bd; stroke-opacity: 0.4"/>
     <circle cx="279.149822" cy="110.631528" r="2.2361" style="fill: #9467bd; fill-opacity: 0.4; stroke: #9467bd; stroke-opacity: 0.4"/>
     <circle cx="280.554743" cy="110.906234" r="2.2361" style="fill: #9467bd; fill-opacity: 0.4; stroke: #9467bd; stroke-opacity: 0.4"/>
     <circle cx="281.96073" cy="111.181148" r="2.2361" style="fill: #9467bd; fill-opacity: 0.4; stroke: #9467bd; stroke-opacity: 0.4"/>
     <circle cx="283.367784" cy="111.456271" r="2.2361" style="fill: #9467bd; fill-opacity: 0.4; stroke: #9467bd; stroke-opacity: 0.4"/>
     <circle cx="284.775907" cy="111.731603" r="2.2361" style="fill: #9467bd; fill-opacity: 0.4; stroke: #9467bd; stroke-opacity: 0.4"/>
     <circle cx="286.1851" cy="112.007144" r="2.2361" style="fill: #9467bd; fill-opacity: 0.4; stroke: #9467bd; stroke-opacity: 0.4"/>
     <circle cx="287.595365" cy="112.282895" r="2.2361" style="fill: #9467bd; fill-opacity: 0.4; stroke: #9467bd; stroke-opacity: 0.4"/>
     <circle cx="289.006702" cy="112.558855" r="2.2361" style="fill: #9467bd; fill-opacity: 0.4; stroke: #9467bd; stroke-opacity: 0.4"/>
     <circle cx="290.419112" cy="112.835025" r="2.2361" style="fill: #9467bd; fill-opacity: 0.4; stroke: #9467bd; stroke-opacity: 0.4"/>
     <circle cx="308.878709" cy="116.444452" r="2.2361" style="fill: #9467bd; fill-opacity: 0.4; stroke: #9467bd; stroke-opacity: 0.4"/>
    </g>
   </g>
   <g id="Path3DCollection_5">
    
    <g clip-path="url(#p0552d5e2ae)">
     <circle cx="153.02294" cy="199.051761" r="2.2361" style="fill: #d62728; fill-opacity: 0.4; stroke: #d62728; stroke-opacity: 0.4"/>
     <circle cx="154.291885" cy="199.339991" r="2.2361" style="fill: #d62728; fill-opacity: 0.4; stroke: #d62728; stroke-opacity: 0.4"/>
     <circle cx="155.56173" cy="199.628427" r="2.2361" style="fill: #d62728; fill-opacity: 0.4; stroke: #d62728; stroke-opacity: 0.4"/>
     <circle cx="156.832478" cy="199.917067" r="2.2361" style="fill: #d62728; fill-opacity: 0.4; stroke: #d62728; stroke-opacity: 0.4"/>
     <circle cx="158.104127" cy="200.205912" r="2.2361" style="fill: #d62728; fill-opacity: 0.4; stroke: #d62728; stroke-opacity: 0.4"/>
     <circle cx="159.37668" cy="200.494962" r="2.2361" style="fill: #d62728; fill-opacity: 0.4; stroke: #d62728; stroke-opacity: 0.4"/>
     <circle cx="160.650138" cy="200.784217" r="2.2361" style="fill: #d62728; fill-opacity: 0.4; stroke: #d62728; stroke-opacity: 0.4"/>
     <circle cx="161.924501" cy="201.073679" r="2.2361" style="fill: #d62728; fill-opacity: 0.4; stroke: #d62728; stroke-opacity: 0.4"/>
     <circle cx="163.19977" cy="201.363346" r="2.2361" style="fill: #d62728; fill-opacity: 0.4; stroke: #d62728; stroke-opacity: 0.4"/>
     <circle cx="164.475946" cy="201.653219" r="2.2361" style="fill: #d62728; fill-opacity: 0.4; stroke: #d62728; stroke-opacity: 0.4"/>
     <circle cx="172.152113" cy="203.396798" r="2.2361" style="fill: #d62728; fill-opacity: 0.4; stroke: #d62728; stroke-opacity: 0.4"/>
     <circle cx="173.947946" cy="203.804707" r="2.2361" style="fill: #d62728; fill-opacity: 0.4; stroke: #d62728; stroke-opacity: 0.4"/>
     <circle cx="182.438228" cy="205.733207" r="2.2361" style="fill: #d62728; fill-opacity: 0.4; stroke: #d62728; stroke-opacity: 0.4"/>
     <circle cx="184.244351" cy="206.143453" r="2.2361" style="fill: #d62728; fill-opacity: 0.4; stroke: #d62728; stroke-opacity: 0.4"/>
     <circle cx="192.783351" cy="208.083018" r="2.2361" style="fill: #d62728; fill-opacity: 0.4; stroke: #d62728; stroke-opacity: 0.4"/>
     <circle cx="194.080665" cy="208.377692" r="2.2361" style="fill: #d62728; fill-opacity: 0.4; stroke: #d62728; stroke-opacity: 0.4"/>
     <circle cx="195.378911" cy="208.672578" r="2.2361" style="fill: #d62728; fill-opacity: 0.4; stroke: #d62728; stroke-opacity: 0.4"/>
     <circle cx="196.678088" cy="208.967676" r="2.2361" style="fill: #d62728; fill-opacity: 0.4; stroke: #d62728; stroke-opacity: 0.4"/>
     <circle cx="197.978199" cy="209.262986" r="2.2361" style="fill: #d62728; fill-opacity: 0.4; stroke: #d62728; stroke-opacity: 0.4"/>
     <circle cx="199.279243" cy="209.558507" r="2.2361" style="fill: #d62728; fill-opacity: 0.4; stroke: #d62728; stroke-opacity: 0.4"/>
     <circle cx="200.581222" cy="209.854242" r="2.2361" style="fill: #d62728; fill-opacity: 0.4; stroke: #d62728; stroke-opacity: 0.4"/>
     <circle cx="201.884137" cy="210.150188" r="2.2361" style="fill: #d62728; fill-opacity: 0.4; stroke: #d62728; stroke-opacity: 0.4"/>
     <circle cx="203.187989" cy="210.446348" r="2.2361" style="fill: #d62728; fill-opacity: 0.4; stroke: #d62728; stroke-opacity: 0.4"/>
     <circle cx="204.49278" cy="210.74272" r="2.2361" style="fill: #d62728; fill-opacity: 0.4; stroke: #d62728; stroke-opacity: 0.4"/>
     <circle cx="205.798509" cy="211.039306" r="2.2361" style="fill: #d62728; fill-opacity: 0.4; stroke: #d62728; stroke-opacity: 0.4"/>
     <circle cx="213.652659" cy="212.823313" r="2.2361" style="fill: #d62728; fill-opacity: 0.4; stroke: #d62728; stroke-opacity: 0.4"/>
     <circle cx="215.490187" cy="213.240693" r="2.2361" style="fill: #d62728; fill-opacity: 0.4; stroke: #d62728; stroke-opacity: 0.4"/>
     <circle cx="224.177881" cy="215.214033" r="2.2361" style="fill: #d62728; fill-opacity: 0.4; stroke: #d62728; stroke-opacity: 0.4"/>
     <circle cx="226.02606" cy="215.633832" r="2.2361" style="fill: #d62728; fill-opacity: 0.4; stroke: #d62728; stroke-opacity: 0.4"/>
     <circle cx="234.764182" cy="217.618626" r="2.2361" style="fill: #d62728; fill-opacity: 0.4; stroke: #d62728; stroke-opacity: 0.4"/>
     <circle cx="236.091791" cy="217.920181" r="2.2361" style="fill: #d62728; fill-opacity: 0.4; stroke: #d62728; stroke-opacity: 0.4"/>
     <circle cx="237.420363" cy="218.221956" r="2.2361" style="fill: #d62728; fill-opacity: 0.4; stroke: #d62728; stroke-opacity: 0.4"/>
     <circle cx="238.749901" cy="218.52395" r="2.2361" style="fill: #d62728; fill-opacity: 0.4; stroke: #d62728; stroke-opacity: 0.4"/>
     <circle cx="240.080404" cy="218.826163" r="2.2361" style="fill: #d62728; fill-opacity: 0.4; stroke: #d62728; stroke-opacity: 0.4"/>
     <circle cx="241.411874" cy="219.128595" r="2.2361" style="fill: #d62728; fill-opacity: 0.4; stroke: #d62728; stroke-opacity: 0.4"/>
     <circle cx="242.744312" cy="219.431248" r="2.2361" style="fill: #d62728; fill-opacity: 0.4; stroke: #d62728; stroke-opacity: 0.4"/>
     <circle cx="244.077719" cy="219.734121" r="2.2361" style="fill: #d62728; fill-opacity: 0.4; stroke: #d62728; stroke-opacity: 0.4"/>
     <circle cx="245.412096" cy="220.037214" r="2.2361" style="fill: #d62728; fill-opacity: 0.4; stroke: #d62728; stroke-opacity: 0.4"/>
     <circle cx="246.747444" cy="220.340527" r="2.2361" style="fill: #d62728; fill-opacity: 0.4; stroke: #d62728; stroke-opacity: 0.4"/>
     <circle cx="248.083764" cy="220.644062" r="2.2361" style="fill: #d62728; fill-opacity: 0.4; stroke: #d62728; stroke-opacity: 0.4"/>
     <circle cx="256.122162" cy="222.469919" r="2.2361" style="fill: #d62728; fill-opacity: 0.4; stroke: #d62728; stroke-opacity: 0.4"/>
     <circle cx="258.002854" cy="222.897103" r="2.2361" style="fill: #d62728; fill-opacity: 0.4; stroke: #d62728; stroke-opacity: 0.4"/>
     <circle cx="266.894925" cy="224.916865" r="2.2361" style="fill: #d62728; fill-opacity: 0.4; stroke: #d62728; stroke-opacity: 0.4"/>
     <circle cx="268.786646" cy="225.346554" r="2.2361" style="fill: #d62728; fill-opacity: 0.4; stroke: #d62728; stroke-opacity: 0.4"/>
     <circle cx="277.730938" cy="227.378178" r="2.2361" style="fill: #d62728; fill-opacity: 0.4; stroke: #d62728; stroke-opacity: 0.4"/>
     <circle cx="279.089915" cy="227.686859" r="2.2361" style="fill: #d62728; fill-opacity: 0.4; stroke: #d62728; stroke-opacity: 0.4"/>
     <circle cx="280.44989" cy="227.995766" r="2.2361" style="fill: #d62728; fill-opacity: 0.4; stroke: #d62728; stroke-opacity: 0.4"/>
     <circle cx="281.810864" cy="228.304901" r="2.2361" style="fill: #d62728; fill-opacity: 0.4; stroke: #d62728; stroke-opacity: 0.4"/>
     <circle cx="283.172838" cy="228.614262" r="2.2361" style="fill: #d62728; fill-opacity: 0.4; stroke: #d62728; stroke-opacity: 0.4"/>
     <circle cx="284.535813" cy="228.923851" r="2.2361" style="fill: #d62728; fill-opacity: 0.4; stroke: #d62728; stroke-opacity: 0.4"/>
     <circle cx="285.899792" cy="229.233668" r="2.2361" style="fill: #d62728; fill-opacity: 0.4; stroke: #d62728; stroke-opacity: 0.4"/>
     <circle cx="287.264773" cy="229.543712" r="2.2361" style="fill: #d62728; fill-opacity: 0.4; stroke: #d62728; stroke-opacity: 0.4"/>
     <circle cx="288.63076" cy="229.853985" r="2.2361" style="fill: #d62728; fill-opacity: 0.4; stroke: #d62728; stroke-opacity: 0.4"/>
     <circle cx="289.997752" cy="230.164486" r="2.2361" style="fill: #d62728; fill-opacity: 0.4; stroke: #d62728; stroke-opacity: 0.4"/>
     <circle cx="291.365752" cy="230.475216" r="2.2361" style="fill: #d62728; fill-opacity: 0.4; stroke: #d62728; stroke-opacity: 0.4"/>
     <circle cx="162.889203" cy="97.283241" r="2.2361" style="fill: #d62728; fill-opacity: 0.4; stroke: #d62728; stroke-opacity: 0.4"/>
     <circle cx="164.224926" cy="97.547911" r="2.2361" style="fill: #d62728; fill-opacity: 0.4; stroke: #d62728; stroke-opacity: 0.4"/>
     <circle cx="165.561644" cy="97.812778" r="2.2361" style="fill: #d62728; fill-opacity: 0.4; stroke: #d62728; stroke-opacity: 0.4"/>
     <circle cx="166.899358" cy="98.077843" r="2.2361" style="fill: #d62728; fill-opacity: 0.4; stroke: #d62728; stroke-opacity: 0.4"/>
     <circle cx="173.602911" cy="99.406133" r="2.2361" style="fill: #d62728; fill-opacity: 0.4; stroke: #d62728; stroke-opacity: 0.4"/>
     <circle cx="174.946626" cy="99.672386" r="2.2361" style="fill: #d62728; fill-opacity: 0.4; stroke: #d62728; stroke-opacity: 0.4"/>
     <circle cx="176.291345" cy="99.938839" r="2.2361" style="fill: #d62728; fill-opacity: 0.4; stroke: #d62728; stroke-opacity: 0.4"/>
     <circle cx="177.637069" cy="100.20549" r="2.2361" style="fill: #d62728; fill-opacity: 0.4; stroke: #d62728; stroke-opacity: 0.4"/>
     <circle cx="184.380807" cy="101.541743" r="2.2361" style="fill: #d62728; fill-opacity: 0.4; stroke: #d62728; stroke-opacity: 0.4"/>
     <circle cx="185.732586" cy="101.809594" r="2.2361" style="fill: #d62728; fill-opacity: 0.4; stroke: #d62728; stroke-opacity: 0.4"/>
     <circle cx="187.085378" cy="102.077646" r="2.2361" style="fill: #d62728; fill-opacity: 0.4; stroke: #d62728; stroke-opacity: 0.4"/>
     <circle cx="188.439185" cy="102.345899" r="2.2361" style="fill: #d62728; fill-opacity: 0.4; stroke: #d62728; stroke-opacity: 0.4"/>
     <circle cx="206.131485" cy="105.851579" r="2.2361" style="fill: #d62728; fill-opacity: 0.4; stroke: #d62728; stroke-opacity: 0.4"/>
     <circle cx="207.499612" cy="106.12267" r="2.2361" style="fill: #d62728; fill-opacity: 0.4; stroke: #d62728; stroke-opacity: 0.4"/>
     <circle cx="208.868769" cy="106.393965" r="2.2361" style="fill: #d62728; fill-opacity: 0.4; stroke: #d62728; stroke-opacity: 0.4"/>
     <circle cx="210.23896" cy="106.665464" r="2.2361" style="fill: #d62728; fill-opacity: 0.4; stroke: #d62728; stroke-opacity: 0.4"/>
     <circle cx="217.105445" cy="108.026039" r="2.2361" style="fill: #d62728; fill-opacity: 0.4; stroke: #d62728; stroke-opacity: 0.4"/>
     <circle cx="218.481857" cy="108.298771" r="2.2361" style="fill: #d62728; fill-opacity: 0.4; stroke: #d62728; stroke-opacity: 0.4"/>
     <circle cx="219.859309" cy="108.571709" r="2.2361" style="fill: #d62728; fill-opacity: 0.4; stroke: #d62728; stroke-opacity: 0.4"/>
     <circle cx="221.237804" cy="108.844854" r="2.2361" style="fill: #d62728; fill-opacity: 0.4; stroke: #d62728; stroke-opacity: 0.4"/>
     <circle cx="228.14595" cy="110.213684" r="2.2361" style="fill: #d62728; fill-opacity: 0.4; stroke: #d62728; stroke-opacity: 0.4"/>
     <circle cx="229.530722" cy="110.488073" r="2.2361" style="fill: #d62728; fill-opacity: 0.4; stroke: #d62728; stroke-opacity: 0.4"/>
     <circle cx="230.916545" cy="110.76267" r="2.2361" style="fill: #d62728; fill-opacity: 0.4; stroke: #d62728; stroke-opacity: 0.4"/>
     <circle cx="232.303419" cy="111.037475" r="2.2361" style="fill: #d62728; fill-opacity: 0.4; stroke: #d62728; stroke-opacity: 0.4"/>
     <circle cx="250.429029" cy="114.629014" r="2.2361" style="fill: #d62728; fill-opacity: 0.4; stroke: #d62728; stroke-opacity: 0.4"/>
     <circle cx="251.830753" cy="114.906762" r="2.2361" style="fill: #d62728; fill-opacity: 0.4; stroke: #d62728; stroke-opacity: 0.4"/>
     <circle cx="253.233546" cy="115.184721" r="2.2361" style="fill: #d62728; fill-opacity: 0.4; stroke: #d62728; stroke-opacity: 0.4"/>
     <circle cx="254.63741" cy="115.462893" r="2.2361" style="fill: #d62728; fill-opacity: 0.4; stroke: #d62728; stroke-opacity: 0.4"/>
     <circle cx="261.67284" cy="116.856944" r="2.2361" style="fill: #d62728; fill-opacity: 0.4; stroke: #d62728; stroke-opacity: 0.4"/>
     <circle cx="263.083156" cy="117.136394" r="2.2361" style="fill: #d62728; fill-opacity: 0.4; stroke: #d62728; stroke-opacity: 0.4"/>
     <circle cx="264.494552" cy="117.416058" r="2.2361" style="fill: #d62728; fill-opacity: 0.4; stroke: #d62728; stroke-opacity: 0.4"/>
     <circle cx="265.907029" cy="117.695937" r="2.2361" style="fill: #d62728; fill-opacity: 0.4; stroke: #d62728; stroke-opacity: 0.4"/>
     <circle cx="272.98567" cy="119.09855" r="2.2361" style="fill: #d62728; fill-opacity: 0.4; stroke: #d62728; stroke-opacity: 0.4"/>
     <circle cx="274.404658" cy="119.379718" r="2.2361" style="fill: #d62728; fill-opacity: 0.4; stroke: #d62728; stroke-opacity: 0.4"/>
     <circle cx="275.824735" cy="119.661103" r="2.2361" style="fill: #d62728; fill-opacity: 0.4; stroke: #d62728; stroke-opacity: 0.4"/>
     <circle cx="277.245904" cy="119.942703" r="2.2361" style="fill: #d62728; fill-opacity: 0.4; stroke: #d62728; stroke-opacity: 0.4"/>
     <circle cx="295.82094" cy="123.623295" r="2.2361" style="fill: #d62728; fill-opacity: 0.4; stroke: #d62728; stroke-opacity: 0.4"/>
     <circle cx="297.257514" cy="123.907948" r="2.2361" style="fill: #d62728; fill-opacity: 0.4; stroke: #d62728; stroke-opacity: 0.4"/>
    </g>
   </g>
   <g id="Path3DCollection_6">
    
    <g clip-path="url(#p0552d5e2ae)">
     <circle cx="140.773507" cy="206.752982" r="2.2361" style="fill: #2ca02c; fill-opacity: 0.4; stroke: #2ca02c; stroke-opacity: 0.4"/>
     <circle cx="142.050097" cy="207.046703" r="2.2361" style="fill: #2ca02c; fill-opacity: 0.4; stroke: #2ca02c; stroke-opacity: 0.4"/>
     <circle cx="143.327602" cy="207.340635" r="2.2361" style="fill: #2ca02c; fill-opacity: 0.4; stroke: #2ca02c; stroke-opacity: 0.4"/>
     <circle cx="144.606021" cy="207.634777" r="2.2361" style="fill: #2ca02c; fill-opacity: 0.4; stroke: #2ca02c; stroke-opacity: 0.4"/>
     <circle cx="145.885358" cy="207.92913" r="2.2361" style="fill: #2ca02c; fill-opacity: 0.4; stroke: #2ca02c; stroke-opacity: 0.4"/>
     <circle cx="147.165612" cy="208.223694" r="2.2361" style="fill: #2ca02c; fill-opacity: 0.4; stroke: #2ca02c; stroke-opacity: 0.4"/>
     <circle cx="148.446784" cy="208.51847" r="2.2361" style="fill: #2ca02c; fill-opacity: 0.4; stroke: #2ca02c; stroke-opacity: 0.4"/>
     <circle cx="149.728877" cy="208.813457" r="2.2361" style="fill: #2ca02c; fill-opacity: 0.4; stroke: #2ca02c; stroke-opacity: 0.4"/>
     <circle cx="180.777533" cy="215.957212" r="2.2361" style="fill: #2ca02c; fill-opacity: 0.4; stroke: #2ca02c; stroke-opacity: 0.4"/>
     <circle cx="182.082939" cy="216.257563" r="2.2361" style="fill: #2ca02c; fill-opacity: 0.4; stroke: #2ca02c; stroke-opacity: 0.4"/>
     <circle cx="183.38929" cy="216.558132" r="2.2361" style="fill: #2ca02c; fill-opacity: 0.4; stroke: #2ca02c; stroke-opacity: 0.4"/>
     <circle cx="184.696587" cy="216.858918" r="2.2361" style="fill: #2ca02c; fill-opacity: 0.4; stroke: #2ca02c; stroke-opacity: 0.4"/>
     <circle cx="186.004833" cy="217.159922" r="2.2361" style="fill: #2ca02c; fill-opacity: 0.4; stroke: #2ca02c; stroke-opacity: 0.4"/>
     <circle cx="187.314027" cy="217.461145" r="2.2361" style="fill: #2ca02c; fill-opacity: 0.4; stroke: #2ca02c; stroke-opacity: 0.4"/>
     <circle cx="188.624171" cy="217.762587" r="2.2361" style="fill: #2ca02c; fill-opacity: 0.4; stroke: #2ca02c; stroke-opacity: 0.4"/>
     <circle cx="189.935266" cy="218.064247" r="2.2361" style="fill: #2ca02c; fill-opacity: 0.4; stroke: #2ca02c; stroke-opacity: 0.4"/>
     <circle cx="191.247313" cy="218.366126" r="2.2361" style="fill: #2ca02c; fill-opacity: 0.4; stroke: #2ca02c; stroke-opacity: 0.4"/>
     <circle cx="223.024734" cy="225.677557" r="2.2361" style="fill: #2ca02c; fill-opacity: 0.4; stroke: #2ca02c; stroke-opacity: 0.4"/>
     <circle cx="224.360919" cy="225.98499" r="2.2361" style="fill: #2ca02c; fill-opacity: 0.4; stroke: #2ca02c; stroke-opacity: 0.4"/>
     <circle cx="225.698084" cy="226.292648" r="2.2361" style="fill: #2ca02c; fill-opacity: 0.4; stroke: #2ca02c; stroke-opacity: 0.4"/>
     <circle cx="227.03623" cy="226.600532" r="2.2361" style="fill: #2ca02c; fill-opacity: 0.4; stroke: #2ca02c; stroke-opacity: 0.4"/>
     <circle cx="228.375357" cy="226.908642" r="2.2361" style="fill: #2ca02c; fill-opacity: 0.4; stroke: #2ca02c; stroke-opacity: 0.4"/>
     <circle cx="229.715467" cy="227.216978" r="2.2361" style="fill: #2ca02c; fill-opacity: 0.4; stroke: #2ca02c; stroke-opacity: 0.4"/>
     <circle cx="231.05656" cy="227.52554" r="2.2361" style="fill: #2ca02c; fill-opacity: 0.4; stroke: #2ca02c; stroke-opacity: 0.4"/>
     <circle cx="232.398639" cy="227.834329" r="2.2361" style="fill: #2ca02c; fill-opacity: 0.4; stroke: #2ca02c; stroke-opacity: 0.4"/>
     <circle cx="233.741703" cy="228.143345" r="2.2361" style="fill: #2ca02c; fill-opacity: 0.4; stroke: #2ca02c; stroke-opacity: 0.4"/>
     <circle cx="266.273849" cy="235.628425" r="2.2361" style="fill: #2ca02c; fill-opacity: 0.4; stroke: #2ca02c; stroke-opacity: 0.4"/>
     <circle cx="267.641917" cy="235.943194" r="2.2361" style="fill: #2ca02c; fill-opacity: 0.4; stroke: #2ca02c; stroke-opacity: 0.4"/>
     <circle cx="269.010999" cy="236.258196" r="2.2361" style="fill: #2ca02c; fill-opacity: 0.4; stroke: #2ca02c; stroke-opacity: 0.4"/>
     <circle cx="270.381098" cy="236.573431" r="2.2361" style="fill: #2ca02c; fill-opacity: 0.4; stroke: #2ca02c; stroke-opacity: 0.4"/>
     <circle cx="271.752213" cy="236.888901" r="2.2361" style="fill: #2ca02c; fill-opacity: 0.4; stroke: #2ca02c; stroke-opacity: 0.4"/>
     <circle cx="273.124346" cy="237.204605" r="2.2361" style="fill: #2ca02c; fill-opacity: 0.4; stroke: #2ca02c; stroke-opacity: 0.4"/>
     <circle cx="274.497499" cy="237.520544" r="2.2361" style="fill: #2ca02c; fill-opacity: 0.4; stroke: #2ca02c; stroke-opacity: 0.4"/>
     <circle cx="275.871671" cy="237.836717" r="2.2361" style="fill: #2ca02c; fill-opacity: 0.4; stroke: #2ca02c; stroke-opacity: 0.4"/>
     <circle cx="277.246866" cy="238.153125" r="2.2361" style="fill: #2ca02c; fill-opacity: 0.4; stroke: #2ca02c; stroke-opacity: 0.4"/>
     <circle cx="147.437569" cy="103.818826" r="2.2361" style="fill: #2ca02c; fill-opacity: 0.4; stroke: #2ca02c; stroke-opacity: 0.4"/>
     <circle cx="148.779771" cy="104.088386" r="2.2361" style="fill: #2ca02c; fill-opacity: 0.4; stroke: #2ca02c; stroke-opacity: 0.4"/>
     <circle cx="150.122983" cy="104.358149" r="2.2361" style="fill: #2ca02c; fill-opacity: 0.4; stroke: #2ca02c; stroke-opacity: 0.4"/>
     <circle cx="151.467205" cy="104.628115" r="2.2361" style="fill: #2ca02c; fill-opacity: 0.4; stroke: #2ca02c; stroke-opacity: 0.4"/>
     <circle cx="152.812439" cy="104.898284" r="2.2361" style="fill: #2ca02c; fill-opacity: 0.4; stroke: #2ca02c; stroke-opacity: 0.4"/>
     <circle cx="154.158685" cy="105.168656" r="2.2361" style="fill: #2ca02c; fill-opacity: 0.4; stroke: #2ca02c; stroke-opacity: 0.4"/>
     <circle cx="155.505944" cy="105.439232" r="2.2361" style="fill: #2ca02c; fill-opacity: 0.4; stroke: #2ca02c; stroke-opacity: 0.4"/>
     <circle cx="156.854219" cy="105.710012" r="2.2361" style="fill: #2ca02c; fill-opacity: 0.4; stroke: #2ca02c; stroke-opacity: 0.4"/>
     <circle cx="158.20351" cy="105.980995" r="2.2361" style="fill: #2ca02c; fill-opacity: 0.4; stroke: #2ca02c; stroke-opacity: 0.4"/>
     <circle cx="159.553817" cy="106.252183" r="2.2361" style="fill: #2ca02c; fill-opacity: 0.4; stroke: #2ca02c; stroke-opacity: 0.4"/>
     <circle cx="160.905143" cy="106.523576" r="2.2361" style="fill: #2ca02c; fill-opacity: 0.4; stroke: #2ca02c; stroke-opacity: 0.4"/>
     <circle cx="162.257489" cy="106.795173" r="2.2361" style="fill: #2ca02c; fill-opacity: 0.4; stroke: #2ca02c; stroke-opacity: 0.4"/>
     <circle cx="163.610855" cy="107.066975" r="2.2361" style="fill: #2ca02c; fill-opacity: 0.4; stroke: #2ca02c; stroke-opacity: 0.4"/>
     <circle cx="164.965243" cy="107.338983" r="2.2361" style="fill: #2ca02c; fill-opacity: 0.4; stroke: #2ca02c; stroke-opacity: 0.4"/>
     <circle cx="166.320654" cy="107.611196" r="2.2361" style="fill: #2ca02c; fill-opacity: 0.4; stroke: #2ca02c; stroke-opacity: 0.4"/>
     <circle cx="167.677088" cy="107.883614" r="2.2361" style="fill: #2ca02c; fill-opacity: 0.4; stroke: #2ca02c; stroke-opacity: 0.4"/>
     <circle cx="169.034548" cy="108.156239" r="2.2361" style="fill: #2ca02c; fill-opacity: 0.4; stroke: #2ca02c; stroke-opacity: 0.4"/>
     <circle cx="170.393035" cy="108.429069" r="2.2361" style="fill: #2ca02c; fill-opacity: 0.4; stroke: #2ca02c; stroke-opacity: 0.4"/>
     <circle cx="171.752549" cy="108.702106" r="2.2361" style="fill: #2ca02c; fill-opacity: 0.4; stroke: #2ca02c; stroke-opacity: 0.4"/>
     <circle cx="173.113092" cy="108.97535" r="2.2361" style="fill: #2ca02c; fill-opacity: 0.4; stroke: #2ca02c; stroke-opacity: 0.4"/>
     <circle cx="174.474664" cy="109.2488" r="2.2361" style="fill: #2ca02c; fill-opacity: 0.4; stroke: #2ca02c; stroke-opacity: 0.4"/>
     <circle cx="175.837268" cy="109.522458" r="2.2361" style="fill: #2ca02c; fill-opacity: 0.4; stroke: #2ca02c; stroke-opacity: 0.4"/>
     <circle cx="177.200904" cy="109.796322" r="2.2361" style="fill: #2ca02c; fill-opacity: 0.4; stroke: #2ca02c; stroke-opacity: 0.4"/>
     <circle cx="190.894295" cy="112.546424" r="2.2361" style="fill: #2ca02c; fill-opacity: 0.4; stroke: #2ca02c; stroke-opacity: 0.4"/>
     <circle cx="192.269364" cy="112.822585" r="2.2361" style="fill: #2ca02c; fill-opacity: 0.4; stroke: #2ca02c; stroke-opacity: 0.4"/>
     <circle cx="193.645478" cy="113.098956" r="2.2361" style="fill: #2ca02c; fill-opacity: 0.4; stroke: #2ca02c; stroke-opacity: 0.4"/>
     <circle cx="195.022641" cy="113.375537" r="2.2361" style="fill: #2ca02c; fill-opacity: 0.4; stroke: #2ca02c; stroke-opacity: 0.4"/>
     <circle cx="196.400852" cy="113.652329" r="2.2361" style="fill: #2ca02c; fill-opacity: 0.4; stroke: #2ca02c; stroke-opacity: 0.4"/>
     <circle cx="197.780113" cy="113.929332" r="2.2361" style="fill: #2ca02c; fill-opacity: 0.4; stroke: #2ca02c; stroke-opacity: 0.4"/>
     <circle cx="199.160426" cy="114.206546" r="2.2361" style="fill: #2ca02c; fill-opacity: 0.4; stroke: #2ca02c; stroke-opacity: 0.4"/>
     <circle cx="200.541791" cy="114.483971" r="2.2361" style="fill: #2ca02c; fill-opacity: 0.4; stroke: #2ca02c; stroke-opacity: 0.4"/>
     <circle cx="201.924209" cy="114.761608" r="2.2361" style="fill: #2ca02c; fill-opacity: 0.4; stroke: #2ca02c; stroke-opacity: 0.4"/>
     <circle cx="203.307683" cy="115.039457" r="2.2361" style="fill: #2ca02c; fill-opacity: 0.4; stroke: #2ca02c; stroke-opacity: 0.4"/>
     <circle cx="204.692212" cy="115.317518" r="2.2361" style="fill: #2ca02c; fill-opacity: 0.4; stroke: #2ca02c; stroke-opacity: 0.4"/>
     <circle cx="206.077799" cy="115.595791" r="2.2361" style="fill: #2ca02c; fill-opacity: 0.4; stroke: #2ca02c; stroke-opacity: 0.4"/>
     <circle cx="207.464444" cy="115.874277" r="2.2361" style="fill: #2ca02c; fill-opacity: 0.4; stroke: #2ca02c; stroke-opacity: 0.4"/>
     <circle cx="208.852149" cy="116.152975" r="2.2361" style="fill: #2ca02c; fill-opacity: 0.4; stroke: #2ca02c; stroke-opacity: 0.4"/>
     <circle cx="210.240915" cy="116.431887" r="2.2361" style="fill: #2ca02c; fill-opacity: 0.4; stroke: #2ca02c; stroke-opacity: 0.4"/>
     <circle cx="211.630743" cy="116.711012" r="2.2361" style="fill: #2ca02c; fill-opacity: 0.4; stroke: #2ca02c; stroke-opacity: 0.4"/>
     <circle cx="213.021634" cy="116.990351" r="2.2361" style="fill: #2ca02c; fill-opacity: 0.4; stroke: #2ca02c; stroke-opacity: 0.4"/>
     <circle cx="214.413589" cy="117.269903" r="2.2361" style="fill: #2ca02c; fill-opacity: 0.4; stroke: #2ca02c; stroke-opacity: 0.4"/>
     <circle cx="215.806611" cy="117.549669" r="2.2361" style="fill: #2ca02c; fill-opacity: 0.4; stroke: #2ca02c; stroke-opacity: 0.4"/>
     <circle cx="217.200699" cy="117.82965" r="2.2361" style="fill: #2ca02c; fill-opacity: 0.4; stroke: #2ca02c; stroke-opacity: 0.4"/>
     <circle cx="218.595856" cy="118.109845" r="2.2361" style="fill: #2ca02c; fill-opacity: 0.4; stroke: #2ca02c; stroke-opacity: 0.4"/>
     <circle cx="219.992082" cy="118.390255" r="2.2361" style="fill: #2ca02c; fill-opacity: 0.4; stroke: #2ca02c; stroke-opacity: 0.4"/>
     <circle cx="221.389379" cy="118.67088" r="2.2361" style="fill: #2ca02c; fill-opacity: 0.4; stroke: #2ca02c; stroke-opacity: 0.4"/>
     <circle cx="235.421508" cy="121.489012" r="2.2361" style="fill: #2ca02c; fill-opacity: 0.4; stroke: #2ca02c; stroke-opacity: 0.4"/>
     <circle cx="236.830664" cy="121.772019" r="2.2361" style="fill: #2ca02c; fill-opacity: 0.4; stroke: #2ca02c; stroke-opacity: 0.4"/>
     <circle cx="238.240906" cy="122.055244" r="2.2361" style="fill: #2ca02c; fill-opacity: 0.4; stroke: #2ca02c; stroke-opacity: 0.4"/>
     <circle cx="239.652234" cy="122.338687" r="2.2361" style="fill: #2ca02c; fill-opacity: 0.4; stroke: #2ca02c; stroke-opacity: 0.4"/>
     <circle cx="241.064651" cy="122.622348" r="2.2361" style="fill: #2ca02c; fill-opacity: 0.4; stroke: #2ca02c; stroke-opacity: 0.4"/>
     <circle cx="242.478157" cy="122.906229" r="2.2361" style="fill: #2ca02c; fill-opacity: 0.4; stroke: #2ca02c; stroke-opacity: 0.4"/>
     <circle cx="243.892754" cy="123.190328" r="2.2361" style="fill: #2ca02c; fill-opacity: 0.4; stroke: #2ca02c; stroke-opacity: 0.4"/>
     <circle cx="245.308442" cy="123.474647" r="2.2361" style="fill: #2ca02c; fill-opacity: 0.4; stroke: #2ca02c; stroke-opacity: 0.4"/>
     <circle cx="246.725224" cy="123.759185" r="2.2361" style="fill: #2ca02c; fill-opacity: 0.4; stroke: #2ca02c; stroke-opacity: 0.4"/>
     <circle cx="248.1431" cy="124.043943" r="2.2361" style="fill: #2ca02c; fill-opacity: 0.4; stroke: #2ca02c; stroke-opacity: 0.4"/>
     <circle cx="249.562072" cy="124.328921" r="2.2361" style="fill: #2ca02c; fill-opacity: 0.4; stroke: #2ca02c; stroke-opacity: 0.4"/>
     <circle cx="250.982141" cy="124.61412" r="2.2361" style="fill: #2ca02c; fill-opacity: 0.4; stroke: #2ca02c; stroke-opacity: 0.4"/>
     <circle cx="252.403308" cy="124.899539" r="2.2361" style="fill: #2ca02c; fill-opacity: 0.4; stroke: #2ca02c; stroke-opacity: 0.4"/>
     <circle cx="253.825574" cy="125.185178" r="2.2361" style="fill: #2ca02c; fill-opacity: 0.4; stroke: #2ca02c; stroke-opacity: 0.4"/>
     <circle cx="255.248942" cy="125.471039" r="2.2361" style="fill: #2ca02c; fill-opacity: 0.4; stroke: #2ca02c; stroke-opacity: 0.4"/>
     <circle cx="256.673411" cy="125.757121" r="2.2361" style="fill: #2ca02c; fill-opacity: 0.4; stroke: #2ca02c; stroke-opacity: 0.4"/>
     <circle cx="258.098984" cy="126.043425" r="2.2361" style="fill: #2ca02c; fill-opacity: 0.4; stroke: #2ca02c; stroke-opacity: 0.4"/>
     <circle cx="259.525661" cy="126.329951" r="2.2361" style="fill: #2ca02c; fill-opacity: 0.4; stroke: #2ca02c; stroke-opacity: 0.4"/>
     <circle cx="260.953444" cy="126.616699" r="2.2361" style="fill: #2ca02c; fill-opacity: 0.4; stroke: #2ca02c; stroke-opacity: 0.4"/>
     <circle cx="262.382335" cy="126.903669" r="2.2361" style="fill: #2ca02c; fill-opacity: 0.4; stroke: #2ca02c; stroke-opacity: 0.4"/>
     <circle cx="263.812334" cy="127.190861" r="2.2361" style="fill: #2ca02c; fill-opacity: 0.4; stroke: #2ca02c; stroke-opacity: 0.4"/>
     <circle cx="265.243442" cy="127.478277" r="2.2361" style="fill: #2ca02c; fill-opacity: 0.4; stroke: #2ca02c; stroke-opacity: 0.4"/>
     <circle cx="266.675662" cy="127.765916" r="2.2361" style="fill: #2ca02c; fill-opacity: 0.4; stroke: #2ca02c; stroke-opacity: 0.4"/>
     <circle cx="281.059254" cy="130.654633" r="2.2361" style="fill: #2ca02c; fill-opacity: 0.4; stroke: #2ca02c; stroke-opacity: 0.4"/>
     <circle cx="282.503782" cy="130.944744" r="2.2361" style="fill: #2ca02c; fill-opacity: 0.4; stroke: #2ca02c; stroke-opacity: 0.4"/>
     <circle cx="283.949436" cy="131.235081" r="2.2361" style="fill: #2ca02c; fill-opacity: 0.4; stroke: #2ca02c; stroke-opacity: 0.4"/>
     <circle cx="285.396218" cy="131.525644" r="2.2361" style="fill: #2ca02c; fill-opacity: 0.4; stroke: #2ca02c; stroke-opacity: 0.4"/>
    </g>
   </g>
   <g id="Path3DCollection_7">
    
    <g clip-path="url(#p0552d5e2ae)">
     <circle cx="128.28966" cy="214.601581" r="2.2361" style="fill: #ff7f0e; fill-opacity: 0.4; stroke: #ff7f0e; stroke-opacity: 0.4"/>
     <circle cx="129.573956" cy="214.900951" r="2.2361" style="fill: #ff7f0e; fill-opacity: 0.4; stroke: #ff7f0e; stroke-opacity: 0.4"/>
     <circle cx="130.859181" cy="215.200537" r="2.2361" style="fill: #ff7f0e; fill-opacity: 0.4; stroke: #ff7f0e; stroke-opacity: 0.4"/>
     <circle cx="132.145336" cy="215.50034" r="2.2361" style="fill: #ff7f0e; fill-opacity: 0.4; stroke: #ff7f0e; stroke-opacity: 0.4"/>
     <circle cx="133.432422" cy="215.80036" r="2.2361" style="fill: #ff7f0e; fill-opacity: 0.4; stroke: #ff7f0e; stroke-opacity: 0.4"/>
     <circle cx="139.88185" cy="217.303725" r="2.2361" style="fill: #ff7f0e; fill-opacity: 0.4; stroke: #ff7f0e; stroke-opacity: 0.4"/>
     <circle cx="141.174543" cy="217.605052" r="2.2361" style="fill: #ff7f0e; fill-opacity: 0.4; stroke: #ff7f0e; stroke-opacity: 0.4"/>
     <circle cx="148.950434" cy="219.417615" r="2.2361" style="fill: #ff7f0e; fill-opacity: 0.4; stroke: #ff7f0e; stroke-opacity: 0.4"/>
     <circle cx="168.53936" cy="223.9838" r="2.2361" style="fill: #ff7f0e; fill-opacity: 0.4; stroke: #ff7f0e; stroke-opacity: 0.4"/>
     <circle cx="169.852927" cy="224.289993" r="2.2361" style="fill: #ff7f0e; fill-opacity: 0.4; stroke: #ff7f0e; stroke-opacity: 0.4"/>
     <circle cx="171.167456" cy="224.59641" r="2.2361" style="fill: #ff7f0e; fill-opacity: 0.4; stroke: #ff7f0e; stroke-opacity: 0.4"/>
     <circle cx="172.482946" cy="224.903052" r="2.2361" style="fill: #ff7f0e; fill-opacity: 0.4; stroke: #ff7f0e; stroke-opacity: 0.4"/>
     <circle cx="173.7994" cy="225.209918" r="2.2361" style="fill: #ff7f0e; fill-opacity: 0.4; stroke: #ff7f0e; stroke-opacity: 0.4"/>
     <circle cx="175.116817" cy="225.517008" r="2.2361" style="fill: #ff7f0e; fill-opacity: 0.4; stroke: #ff7f0e; stroke-opacity: 0.4"/>
     <circle cx="181.718402" cy="227.05584" r="2.2361" style="fill: #ff7f0e; fill-opacity: 0.4; stroke: #ff7f0e; stroke-opacity: 0.4"/>
     <circle cx="183.041626" cy="227.364284" r="2.2361" style="fill: #ff7f0e; fill-opacity: 0.4; stroke: #ff7f0e; stroke-opacity: 0.4"/>
     <circle cx="191.001407" cy="229.219712" r="2.2361" style="fill: #ff7f0e; fill-opacity: 0.4; stroke: #ff7f0e; stroke-opacity: 0.4"/>
     <circle cx="211.055395" cy="233.894303" r="2.2361" style="fill: #ff7f0e; fill-opacity: 0.4; stroke: #ff7f0e; stroke-opacity: 0.4"/>
     <circle cx="212.400241" cy="234.207787" r="2.2361" style="fill: #ff7f0e; fill-opacity: 0.4; stroke: #ff7f0e; stroke-opacity: 0.4"/>
     <circle cx="213.746082" cy="234.521504" r="2.2361" style="fill: #ff7f0e; fill-opacity: 0.4; stroke: #ff7f0e; stroke-opacity: 0.4"/>
     <circle cx="215.09292" cy="234.835452" r="2.2361" style="fill: #ff7f0e; fill-opacity: 0.4; stroke: #ff7f0e; stroke-opacity: 0.4"/>
     <circle cx="216.440755" cy="235.149633" r="2.2361" style="fill: #ff7f0e; fill-opacity: 0.4; stroke: #ff7f0e; stroke-opacity: 0.4"/>
     <circle cx="217.789589" cy="235.464046" r="2.2361" style="fill: #ff7f0e; fill-opacity: 0.4; stroke: #ff7f0e; stroke-opacity: 0.4"/>
     <circle cx="224.548778" cy="237.039616" r="2.2361" style="fill: #ff7f0e; fill-opacity: 0.4; stroke: #ff7f0e; stroke-opacity: 0.4"/>
     <circle cx="225.903628" cy="237.355432" r="2.2361" style="fill: #ff7f0e; fill-opacity: 0.4; stroke: #ff7f0e; stroke-opacity: 0.4"/>
     <circle cx="234.053901" cy="239.255263" r="2.2361" style="fill: #ff7f0e; fill-opacity: 0.4; stroke: #ff7f0e; stroke-opacity: 0.4"/>
     <circle cx="254.589712" cy="244.042168" r="2.2361" style="fill: #ff7f0e; fill-opacity: 0.4; stroke: #ff7f0e; stroke-opacity: 0.4"/>
     <circle cx="255.966966" cy="244.363207" r="2.2361" style="fill: #ff7f0e; fill-opacity: 0.4; stroke: #ff7f0e; stroke-opacity: 0.4"/>
     <circle cx="257.345252" cy="244.684486" r="2.2361" style="fill: #ff7f0e; fill-opacity: 0.4; stroke: #ff7f0e; stroke-opacity: 0.4"/>
     <circle cx="258.724571" cy="245.006006" r="2.2361" style="fill: #ff7f0e; fill-opacity: 0.4; stroke: #ff7f0e; stroke-opacity: 0.4"/>
     <circle cx="260.104924" cy="245.327766" r="2.2361" style="fill: #ff7f0e; fill-opacity: 0.4; stroke: #ff7f0e; stroke-opacity: 0.4"/>
     <circle cx="261.486312" cy="245.649768" r="2.2361" style="fill: #ff7f0e; fill-opacity: 0.4; stroke: #ff7f0e; stroke-opacity: 0.4"/>
     <circle cx="268.408818" cy="247.263407" r="2.2361" style="fill: #ff7f0e; fill-opacity: 0.4; stroke: #ff7f0e; stroke-opacity: 0.4"/>
     <circle cx="269.79644" cy="247.586862" r="2.2361" style="fill: #ff7f0e; fill-opacity: 0.4; stroke: #ff7f0e; stroke-opacity: 0.4"/>
     <circle cx="130.351476" cy="110.201333" r="2.2361" style="fill: #ff7f0e; fill-opacity: 0.4; stroke: #ff7f0e; stroke-opacity: 0.4"/>
     <circle cx="131.699148" cy="110.475713" r="2.2361" style="fill: #ff7f0e; fill-opacity: 0.4; stroke: #ff7f0e; stroke-opacity: 0.4"/>
     <circle cx="133.047842" cy="110.7503" r="2.2361" style="fill: #ff7f0e; fill-opacity: 0.4; stroke: #ff7f0e; stroke-opacity: 0.4"/>
     <circle cx="134.39756" cy="111.025096" r="2.2361" style="fill: #ff7f0e; fill-opacity: 0.4; stroke: #ff7f0e; stroke-opacity: 0.4"/>
     <circle cx="139.806687" cy="112.126368" r="2.2361" style="fill: #ff7f0e; fill-opacity: 0.4; stroke: #ff7f0e; stroke-opacity: 0.4"/>
     <circle cx="141.161539" cy="112.402209" r="2.2361" style="fill: #ff7f0e; fill-opacity: 0.4; stroke: #ff7f0e; stroke-opacity: 0.4"/>
     <circle cx="142.517422" cy="112.67826" r="2.2361" style="fill: #ff7f0e; fill-opacity: 0.4; stroke: #ff7f0e; stroke-opacity: 0.4"/>
     <circle cx="143.874336" cy="112.954521" r="2.2361" style="fill: #ff7f0e; fill-opacity: 0.4; stroke: #ff7f0e; stroke-opacity: 0.4"/>
     <circle cx="145.232283" cy="113.230993" r="2.2361" style="fill: #ff7f0e; fill-opacity: 0.4; stroke: #ff7f0e; stroke-opacity: 0.4"/>
     <circle cx="146.591264" cy="113.507675" r="2.2361" style="fill: #ff7f0e; fill-opacity: 0.4; stroke: #ff7f0e; stroke-opacity: 0.4"/>
     <circle cx="147.951281" cy="113.784567" r="2.2361" style="fill: #ff7f0e; fill-opacity: 0.4; stroke: #ff7f0e; stroke-opacity: 0.4"/>
     <circle cx="149.312333" cy="114.061671" r="2.2361" style="fill: #ff7f0e; fill-opacity: 0.4; stroke: #ff7f0e; stroke-opacity: 0.4"/>
     <circle cx="150.674423" cy="114.338986" r="2.2361" style="fill: #ff7f0e; fill-opacity: 0.4; stroke: #ff7f0e; stroke-opacity: 0.4"/>
     <circle cx="152.037552" cy="114.616512" r="2.2361" style="fill: #ff7f0e; fill-opacity: 0.4; stroke: #ff7f0e; stroke-opacity: 0.4"/>
     <circle cx="153.401721" cy="114.89425" r="2.2361" style="fill: #ff7f0e; fill-opacity: 0.4; stroke: #ff7f0e; stroke-opacity: 0.4"/>
     <circle cx="154.766931" cy="115.1722" r="2.2361" style="fill: #ff7f0e; fill-opacity: 0.4; stroke: #ff7f0e; stroke-opacity: 0.4"/>
     <circle cx="156.133183" cy="115.450363" r="2.2361" style="fill: #ff7f0e; fill-opacity: 0.4; stroke: #ff7f0e; stroke-opacity: 0.4"/>
     <circle cx="157.500478" cy="115.728737" r="2.2361" style="fill: #ff7f0e; fill-opacity: 0.4; stroke: #ff7f0e; stroke-opacity: 0.4"/>
     <circle cx="158.868819" cy="116.007325" r="2.2361" style="fill: #ff7f0e; fill-opacity: 0.4; stroke: #ff7f0e; stroke-opacity: 0.4"/>
     <circle cx="160.238205" cy="116.286125" r="2.2361" style="fill: #ff7f0e; fill-opacity: 0.4; stroke: #ff7f0e; stroke-opacity: 0.4"/>
     <circle cx="161.608638" cy="116.565138" r="2.2361" style="fill: #ff7f0e; fill-opacity: 0.4; stroke: #ff7f0e; stroke-opacity: 0.4"/>
     <circle cx="162.98012" cy="116.844365" r="2.2361" style="fill: #ff7f0e; fill-opacity: 0.4; stroke: #ff7f0e; stroke-opacity: 0.4"/>
     <circle cx="164.352651" cy="117.123806" r="2.2361" style="fill: #ff7f0e; fill-opacity: 0.4; stroke: #ff7f0e; stroke-opacity: 0.4"/>
     <circle cx="173.989855" cy="119.085894" r="2.2361" style="fill: #ff7f0e; fill-opacity: 0.4; stroke: #ff7f0e; stroke-opacity: 0.4"/>
     <circle cx="175.370826" cy="119.367053" r="2.2361" style="fill: #ff7f0e; fill-opacity: 0.4; stroke: #ff7f0e; stroke-opacity: 0.4"/>
     <circle cx="176.752857" cy="119.648427" r="2.2361" style="fill: #ff7f0e; fill-opacity: 0.4; stroke: #ff7f0e; stroke-opacity: 0.4"/>
     <circle cx="178.135949" cy="119.930018" r="2.2361" style="fill: #ff7f0e; fill-opacity: 0.4; stroke: #ff7f0e; stroke-opacity: 0.4"/>
     <circle cx="183.67896" cy="121.058548" r="2.2361" style="fill: #ff7f0e; fill-opacity: 0.4; stroke: #ff7f0e; stroke-opacity: 0.4"/>
     <circle cx="185.067379" cy="121.341223" r="2.2361" style="fill: #ff7f0e; fill-opacity: 0.4; stroke: #ff7f0e; stroke-opacity: 0.4"/>
     <circle cx="186.456867" cy="121.624116" r="2.2361" style="fill: #ff7f0e; fill-opacity: 0.4; stroke: #ff7f0e; stroke-opacity: 0.4"/>
     <circle cx="187.847425" cy="121.907227" r="2.2361" style="fill: #ff7f0e; fill-opacity: 0.4; stroke: #ff7f0e; stroke-opacity: 0.4"/>
     <circle cx="189.239055" cy="122.190556" r="2.2361" style="fill: #ff7f0e; fill-opacity: 0.4; stroke: #ff7f0e; stroke-opacity: 0.4"/>
     <circle cx="190.631757" cy="122.474104" r="2.2361" style="fill: #ff7f0e; fill-opacity: 0.4; stroke: #ff7f0e; stroke-opacity: 0.4"/>
     <circle cx="192.025534" cy="122.75787" r="2.2361" style="fill: #ff7f0e; fill-opacity: 0.4; stroke: #ff7f0e; stroke-opacity: 0.4"/>
     <circle cx="193.420385" cy="123.041854" r="2.2361" style="fill: #ff7f0e; fill-opacity: 0.4; stroke: #ff7f0e; stroke-opacity: 0.4"/>
     <circle cx="194.816313" cy="123.326059" r="2.2361" style="fill: #ff7f0e; fill-opacity: 0.4; stroke: #ff7f0e; stroke-opacity: 0.4"/>
     <circle cx="196.213319" cy="123.610482" r="2.2361" style="fill: #ff7f0e; fill-opacity: 0.4; stroke: #ff7f0e; stroke-opacity: 0.4"/>
     <circle cx="197.611403" cy="123.895125" r="2.2361" style="fill: #ff7f0e; fill-opacity: 0.4; stroke: #ff7f0e; stroke-opacity: 0.4"/>
     <circle cx="199.010568" cy="124.179988" r="2.2361" style="fill: #ff7f0e; fill-opacity: 0.4; stroke: #ff7f0e; stroke-opacity: 0.4"/>
     <circle cx="200.410814" cy="124.465072" r="2.2361" style="fill: #ff7f0e; fill-opacity: 0.4; stroke: #ff7f0e; stroke-opacity: 0.4"/>
     <circle cx="201.812143" cy="124.750375" r="2.2361" style="fill: #ff7f0e; fill-opacity: 0.4; stroke: #ff7f0e; stroke-opacity: 0.4"/>
     <circle cx="203.214556" cy="125.0359" r="2.2361" style="fill: #ff7f0e; fill-opacity: 0.4; stroke: #ff7f0e; stroke-opacity: 0.4"/>
     <circle cx="204.618054" cy="125.321645" r="2.2361" style="fill: #ff7f0e; fill-opacity: 0.4; stroke: #ff7f0e; stroke-opacity: 0.4"/>
     <circle cx="206.022638" cy="125.607612" r="2.2361" style="fill: #ff7f0e; fill-opacity: 0.4; stroke: #ff7f0e; stroke-opacity: 0.4"/>
     <circle cx="207.42831" cy="125.8938" r="2.2361" style="fill: #ff7f0e; fill-opacity: 0.4; stroke: #ff7f0e; stroke-opacity: 0.4"/>
     <circle cx="208.835072" cy="126.180209" r="2.2361" style="fill: #ff7f0e; fill-opacity: 0.4; stroke: #ff7f0e; stroke-opacity: 0.4"/>
     <circle cx="218.712998" cy="128.191307" r="2.2361" style="fill: #ff7f0e; fill-opacity: 0.4; stroke: #ff7f0e; stroke-opacity: 0.4"/>
     <circle cx="220.128516" cy="128.479499" r="2.2361" style="fill: #ff7f0e; fill-opacity: 0.4; stroke: #ff7f0e; stroke-opacity: 0.4"/>
     <circle cx="221.545136" cy="128.767916" r="2.2361" style="fill: #ff7f0e; fill-opacity: 0.4; stroke: #ff7f0e; stroke-opacity: 0.4"/>
     <circle cx="222.962856" cy="129.056557" r="2.2361" style="fill: #ff7f0e; fill-opacity: 0.4; stroke: #ff7f0e; stroke-opacity: 0.4"/>
     <circle cx="228.644783" cy="130.21337" r="2.2361" style="fill: #ff7f0e; fill-opacity: 0.4; stroke: #ff7f0e; stroke-opacity: 0.4"/>
     <circle cx="230.068032" cy="130.503136" r="2.2361" style="fill: #ff7f0e; fill-opacity: 0.4; stroke: #ff7f0e; stroke-opacity: 0.4"/>
     <circle cx="231.49239" cy="130.793128" r="2.2361" style="fill: #ff7f0e; fill-opacity: 0.4; stroke: #ff7f0e; stroke-opacity: 0.4"/>
     <circle cx="232.91786" cy="131.083347" r="2.2361" style="fill: #ff7f0e; fill-opacity: 0.4; stroke: #ff7f0e; stroke-opacity: 0.4"/>
     <circle cx="234.344441" cy="131.373792" r="2.2361" style="fill: #ff7f0e; fill-opacity: 0.4; stroke: #ff7f0e; stroke-opacity: 0.4"/>
     <circle cx="235.772135" cy="131.664464" r="2.2361" style="fill: #ff7f0e; fill-opacity: 0.4; stroke: #ff7f0e; stroke-opacity: 0.4"/>
     <circle cx="237.200945" cy="131.955362" r="2.2361" style="fill: #ff7f0e; fill-opacity: 0.4; stroke: #ff7f0e; stroke-opacity: 0.4"/>
     <circle cx="238.63087" cy="132.246488" r="2.2361" style="fill: #ff7f0e; fill-opacity: 0.4; stroke: #ff7f0e; stroke-opacity: 0.4"/>
     <circle cx="240.061913" cy="132.537841" r="2.2361" style="fill: #ff7f0e; fill-opacity: 0.4; stroke: #ff7f0e; stroke-opacity: 0.4"/>
     <circle cx="241.494074" cy="132.829422" r="2.2361" style="fill: #ff7f0e; fill-opacity: 0.4; stroke: #ff7f0e; stroke-opacity: 0.4"/>
     <circle cx="242.927355" cy="133.121231" r="2.2361" style="fill: #ff7f0e; fill-opacity: 0.4; stroke: #ff7f0e; stroke-opacity: 0.4"/>
     <circle cx="244.361757" cy="133.413269" r="2.2361" style="fill: #ff7f0e; fill-opacity: 0.4; stroke: #ff7f0e; stroke-opacity: 0.4"/>
     <circle cx="245.797282" cy="133.705534" r="2.2361" style="fill: #ff7f0e; fill-opacity: 0.4; stroke: #ff7f0e; stroke-opacity: 0.4"/>
     <circle cx="247.233931" cy="133.998029" r="2.2361" style="fill: #ff7f0e; fill-opacity: 0.4; stroke: #ff7f0e; stroke-opacity: 0.4"/>
     <circle cx="248.671705" cy="134.290753" r="2.2361" style="fill: #ff7f0e; fill-opacity: 0.4; stroke: #ff7f0e; stroke-opacity: 0.4"/>
     <circle cx="250.110605" cy="134.583706" r="2.2361" style="fill: #ff7f0e; fill-opacity: 0.4; stroke: #ff7f0e; stroke-opacity: 0.4"/>
     <circle cx="251.550633" cy="134.876889" r="2.2361" style="fill: #ff7f0e; fill-opacity: 0.4; stroke: #ff7f0e; stroke-opacity: 0.4"/>
     <circle cx="252.991791" cy="135.170301" r="2.2361" style="fill: #ff7f0e; fill-opacity: 0.4; stroke: #ff7f0e; stroke-opacity: 0.4"/>
     <circle cx="254.434079" cy="135.463944" r="2.2361" style="fill: #ff7f0e; fill-opacity: 0.4; stroke: #ff7f0e; stroke-opacity: 0.4"/>
     <circle cx="264.56186" cy="137.525911" r="2.2361" style="fill: #ff7f0e; fill-opacity: 0.4; stroke: #ff7f0e; stroke-opacity: 0.4"/>
     <circle cx="266.013239" cy="137.821404" r="2.2361" style="fill: #ff7f0e; fill-opacity: 0.4; stroke: #ff7f0e; stroke-opacity: 0.4"/>
     <circle cx="267.465762" cy="138.117131" r="2.2361" style="fill: #ff7f0e; fill-opacity: 0.4; stroke: #ff7f0e; stroke-opacity: 0.4"/>
     <circle cx="268.919428" cy="138.41309" r="2.2361" style="fill: #ff7f0e; fill-opacity: 0.4; stroke: #ff7f0e; stroke-opacity: 0.4"/>
    </g>
   </g>
   <g id="Path3DCollection_8">
    
    <g clip-path="url(#p0552d5e2ae)">
     <circle cx="136.351426" cy="227.511641" r="2.2361" style="fill: #1f77b4; fill-opacity: 0.4; stroke: #1f77b4; stroke-opacity: 0.4"/>
     <circle cx="137.658711" cy="227.82042" r="2.2361" style="fill: #1f77b4; fill-opacity: 0.4; stroke: #1f77b4; stroke-opacity: 0.4"/>
     <circle cx="138.966956" cy="228.129425" r="2.2361" style="fill: #1f77b4; fill-opacity: 0.4; stroke: #1f77b4; stroke-opacity: 0.4"/>
     <circle cx="140.276163" cy="228.438657" r="2.2361" style="fill: #1f77b4; fill-opacity: 0.4; stroke: #1f77b4; stroke-opacity: 0.4"/>
     <circle cx="141.586333" cy="228.748117" r="2.2361" style="fill: #1f77b4; fill-opacity: 0.4; stroke: #1f77b4; stroke-opacity: 0.4"/>
     <circle cx="142.897465" cy="229.057805" r="2.2361" style="fill: #1f77b4; fill-opacity: 0.4; stroke: #1f77b4; stroke-opacity: 0.4"/>
     <circle cx="144.209563" cy="229.36772" r="2.2361" style="fill: #1f77b4; fill-opacity: 0.4; stroke: #1f77b4; stroke-opacity: 0.4"/>
     <circle cx="145.522625" cy="229.677863" r="2.2361" style="fill: #1f77b4; fill-opacity: 0.4; stroke: #1f77b4; stroke-opacity: 0.4"/>
     <circle cx="146.836655" cy="229.988235" r="2.2361" style="fill: #1f77b4; fill-opacity: 0.4; stroke: #1f77b4; stroke-opacity: 0.4"/>
     <circle cx="148.151652" cy="230.298835" r="2.2361" style="fill: #1f77b4; fill-opacity: 0.4; stroke: #1f77b4; stroke-opacity: 0.4"/>
     <circle cx="149.467618" cy="230.609664" r="2.2361" style="fill: #1f77b4; fill-opacity: 0.4; stroke: #1f77b4; stroke-opacity: 0.4"/>
     <circle cx="150.784554" cy="230.920722" r="2.2361" style="fill: #1f77b4; fill-opacity: 0.4; stroke: #1f77b4; stroke-opacity: 0.4"/>
     <circle cx="152.102461" cy="231.232009" r="2.2361" style="fill: #1f77b4; fill-opacity: 0.4; stroke: #1f77b4; stroke-opacity: 0.4"/>
     <circle cx="153.42134" cy="231.543527" r="2.2361" style="fill: #1f77b4; fill-opacity: 0.4; stroke: #1f77b4; stroke-opacity: 0.4"/>
     <circle cx="154.741192" cy="231.855273" r="2.2361" style="fill: #1f77b4; fill-opacity: 0.4; stroke: #1f77b4; stroke-opacity: 0.4"/>
     <circle cx="178.666162" cy="237.506312" r="2.2361" style="fill: #1f77b4; fill-opacity: 0.4; stroke: #1f77b4; stroke-opacity: 0.4"/>
     <circle cx="180.00471" cy="237.822475" r="2.2361" style="fill: #1f77b4; fill-opacity: 0.4; stroke: #1f77b4; stroke-opacity: 0.4"/>
     <circle cx="181.344252" cy="238.138872" r="2.2361" style="fill: #1f77b4; fill-opacity: 0.4; stroke: #1f77b4; stroke-opacity: 0.4"/>
     <circle cx="182.68479" cy="238.455505" r="2.2361" style="fill: #1f77b4; fill-opacity: 0.4; stroke: #1f77b4; stroke-opacity: 0.4"/>
     <circle cx="184.026325" cy="238.772374" r="2.2361" style="fill: #1f77b4; fill-opacity: 0.4; stroke: #1f77b4; stroke-opacity: 0.4"/>
     <circle cx="185.368859" cy="239.089478" r="2.2361" style="fill: #1f77b4; fill-opacity: 0.4; stroke: #1f77b4; stroke-opacity: 0.4"/>
     <circle cx="186.712392" cy="239.406818" r="2.2361" style="fill: #1f77b4; fill-opacity: 0.4; stroke: #1f77b4; stroke-opacity: 0.4"/>
     <circle cx="188.056926" cy="239.724395" r="2.2361" style="fill: #1f77b4; fill-opacity: 0.4; stroke: #1f77b4; stroke-opacity: 0.4"/>
     <circle cx="189.402461" cy="240.042208" r="2.2361" style="fill: #1f77b4; fill-opacity: 0.4; stroke: #1f77b4; stroke-opacity: 0.4"/>
     <circle cx="190.748999" cy="240.360258" r="2.2361" style="fill: #1f77b4; fill-opacity: 0.4; stroke: #1f77b4; stroke-opacity: 0.4"/>
     <circle cx="192.096541" cy="240.678545" r="2.2361" style="fill: #1f77b4; fill-opacity: 0.4; stroke: #1f77b4; stroke-opacity: 0.4"/>
     <circle cx="193.445088" cy="240.99707" r="2.2361" style="fill: #1f77b4; fill-opacity: 0.4; stroke: #1f77b4; stroke-opacity: 0.4"/>
     <circle cx="194.794641" cy="241.315832" r="2.2361" style="fill: #1f77b4; fill-opacity: 0.4; stroke: #1f77b4; stroke-opacity: 0.4"/>
     <circle cx="196.145201" cy="241.634832" r="2.2361" style="fill: #1f77b4; fill-opacity: 0.4; stroke: #1f77b4; stroke-opacity: 0.4"/>
     <circle cx="197.496769" cy="241.95407" r="2.2361" style="fill: #1f77b4; fill-opacity: 0.4; stroke: #1f77b4; stroke-opacity: 0.4"/>
     <circle cx="221.998731" cy="247.741393" r="2.2361" style="fill: #1f77b4; fill-opacity: 0.4; stroke: #1f77b4; stroke-opacity: 0.4"/>
     <circle cx="223.369675" cy="248.065208" r="2.2361" style="fill: #1f77b4; fill-opacity: 0.4; stroke: #1f77b4; stroke-opacity: 0.4"/>
     <circle cx="224.741651" cy="248.389266" r="2.2361" style="fill: #1f77b4; fill-opacity: 0.4; stroke: #1f77b4; stroke-opacity: 0.4"/>
     <circle cx="226.114659" cy="248.713568" r="2.2361" style="fill: #1f77b4; fill-opacity: 0.4; stroke: #1f77b4; stroke-opacity: 0.4"/>
     <circle cx="227.4887" cy="249.038115" r="2.2361" style="fill: #1f77b4; fill-opacity: 0.4; stroke: #1f77b4; stroke-opacity: 0.4"/>
     <circle cx="228.863776" cy="249.362905" r="2.2361" style="fill: #1f77b4; fill-opacity: 0.4; stroke: #1f77b4; stroke-opacity: 0.4"/>
     <circle cx="230.239889" cy="249.687941" r="2.2361" style="fill: #1f77b4; fill-opacity: 0.4; stroke: #1f77b4; stroke-opacity: 0.4"/>
     <circle cx="231.617038" cy="250.013221" r="2.2361" style="fill: #1f77b4; fill-opacity: 0.4; stroke: #1f77b4; stroke-opacity: 0.4"/>
     <circle cx="232.995226" cy="250.338747" r="2.2361" style="fill: #1f77b4; fill-opacity: 0.4; stroke: #1f77b4; stroke-opacity: 0.4"/>
     <circle cx="234.374453" cy="250.664518" r="2.2361" style="fill: #1f77b4; fill-opacity: 0.4; stroke: #1f77b4; stroke-opacity: 0.4"/>
     <circle cx="235.754721" cy="250.990535" r="2.2361" style="fill: #1f77b4; fill-opacity: 0.4; stroke: #1f77b4; stroke-opacity: 0.4"/>
     <circle cx="237.136031" cy="251.316798" r="2.2361" style="fill: #1f77b4; fill-opacity: 0.4; stroke: #1f77b4; stroke-opacity: 0.4"/>
     <circle cx="238.518383" cy="251.643308" r="2.2361" style="fill: #1f77b4; fill-opacity: 0.4; stroke: #1f77b4; stroke-opacity: 0.4"/>
     <circle cx="239.90178" cy="251.970064" r="2.2361" style="fill: #1f77b4; fill-opacity: 0.4; stroke: #1f77b4; stroke-opacity: 0.4"/>
     <circle cx="241.286222" cy="252.297067" r="2.2361" style="fill: #1f77b4; fill-opacity: 0.4; stroke: #1f77b4; stroke-opacity: 0.4"/>
     <circle cx="110.255461" cy="116.140421" r="2.2361" style="fill: #1f77b4; fill-opacity: 0.4; stroke: #1f77b4; stroke-opacity: 0.4"/>
     <circle cx="111.606516" cy="116.419323" r="2.2361" style="fill: #1f77b4; fill-opacity: 0.4; stroke: #1f77b4; stroke-opacity: 0.4"/>
     <circle cx="112.958603" cy="116.698439" r="2.2361" style="fill: #1f77b4; fill-opacity: 0.4; stroke: #1f77b4; stroke-opacity: 0.4"/>
     <circle cx="114.311725" cy="116.977767" r="2.2361" style="fill: #1f77b4; fill-opacity: 0.4; stroke: #1f77b4; stroke-opacity: 0.4"/>
     <circle cx="115.665882" cy="117.25731" r="2.2361" style="fill: #1f77b4; fill-opacity: 0.4; stroke: #1f77b4; stroke-opacity: 0.4"/>
     <circle cx="117.021076" cy="117.537067" r="2.2361" style="fill: #1f77b4; fill-opacity: 0.4; stroke: #1f77b4; stroke-opacity: 0.4"/>
     <circle cx="118.377309" cy="117.817038" r="2.2361" style="fill: #1f77b4; fill-opacity: 0.4; stroke: #1f77b4; stroke-opacity: 0.4"/>
     <circle cx="119.73458" cy="118.097223" r="2.2361" style="fill: #1f77b4; fill-opacity: 0.4; stroke: #1f77b4; stroke-opacity: 0.4"/>
     <circle cx="121.092892" cy="118.377624" r="2.2361" style="fill: #1f77b4; fill-opacity: 0.4; stroke: #1f77b4; stroke-opacity: 0.4"/>
     <circle cx="122.452245" cy="118.658239" r="2.2361" style="fill: #1f77b4; fill-opacity: 0.4; stroke: #1f77b4; stroke-opacity: 0.4"/>
     <circle cx="123.812641" cy="118.93907" r="2.2361" style="fill: #1f77b4; fill-opacity: 0.4; stroke: #1f77b4; stroke-opacity: 0.4"/>
     <circle cx="125.174082" cy="119.220116" r="2.2361" style="fill: #1f77b4; fill-opacity: 0.4; stroke: #1f77b4; stroke-opacity: 0.4"/>
     <circle cx="126.536567" cy="119.501378" r="2.2361" style="fill: #1f77b4; fill-opacity: 0.4; stroke: #1f77b4; stroke-opacity: 0.4"/>
     <circle cx="127.900099" cy="119.782856" r="2.2361" style="fill: #1f77b4; fill-opacity: 0.4; stroke: #1f77b4; stroke-opacity: 0.4"/>
     <circle cx="129.264678" cy="120.06455" r="2.2361" style="fill: #1f77b4; fill-opacity: 0.4; stroke: #1f77b4; stroke-opacity: 0.4"/>
     <circle cx="130.630306" cy="120.346461" r="2.2361" style="fill: #1f77b4; fill-opacity: 0.4; stroke: #1f77b4; stroke-opacity: 0.4"/>
     <circle cx="152.623989" cy="124.886681" r="2.2361" style="fill: #1f77b4; fill-opacity: 0.4; stroke: #1f77b4; stroke-opacity: 0.4"/>
     <circle cx="154.007633" cy="125.172311" r="2.2361" style="fill: #1f77b4; fill-opacity: 0.4; stroke: #1f77b4; stroke-opacity: 0.4"/>
     <circle cx="155.392349" cy="125.458162" r="2.2361" style="fill: #1f77b4; fill-opacity: 0.4; stroke: #1f77b4; stroke-opacity: 0.4"/>
     <circle cx="156.778136" cy="125.744234" r="2.2361" style="fill: #1f77b4; fill-opacity: 0.4; stroke: #1f77b4; stroke-opacity: 0.4"/>
     <circle cx="158.164997" cy="126.030528" r="2.2361" style="fill: #1f77b4; fill-opacity: 0.4; stroke: #1f77b4; stroke-opacity: 0.4"/>
     <circle cx="159.552933" cy="126.317044" r="2.2361" style="fill: #1f77b4; fill-opacity: 0.4; stroke: #1f77b4; stroke-opacity: 0.4"/>
     <circle cx="160.941944" cy="126.603782" r="2.2361" style="fill: #1f77b4; fill-opacity: 0.4; stroke: #1f77b4; stroke-opacity: 0.4"/>
     <circle cx="162.332033" cy="126.890742" r="2.2361" style="fill: #1f77b4; fill-opacity: 0.4; stroke: #1f77b4; stroke-opacity: 0.4"/>
     <circle cx="163.723199" cy="127.177924" r="2.2361" style="fill: #1f77b4; fill-opacity: 0.4; stroke: #1f77b4; stroke-opacity: 0.4"/>
     <circle cx="165.115446" cy="127.46533" r="2.2361" style="fill: #1f77b4; fill-opacity: 0.4; stroke: #1f77b4; stroke-opacity: 0.4"/>
     <circle cx="166.508773" cy="127.752959" r="2.2361" style="fill: #1f77b4; fill-opacity: 0.4; stroke: #1f77b4; stroke-opacity: 0.4"/>
     <circle cx="167.903183" cy="128.040811" r="2.2361" style="fill: #1f77b4; fill-opacity: 0.4; stroke: #1f77b4; stroke-opacity: 0.4"/>
     <circle cx="169.298676" cy="128.328886" r="2.2361" style="fill: #1f77b4; fill-opacity: 0.4; stroke: #1f77b4; stroke-opacity: 0.4"/>
     <circle cx="170.695253" cy="128.617186" r="2.2361" style="fill: #1f77b4; fill-opacity: 0.4; stroke: #1f77b4; stroke-opacity: 0.4"/>
     <circle cx="172.092917" cy="128.90571" r="2.2361" style="fill: #1f77b4; fill-opacity: 0.4; stroke: #1f77b4; stroke-opacity: 0.4"/>
     <circle cx="173.491667" cy="129.194458" r="2.2361" style="fill: #1f77b4; fill-opacity: 0.4; stroke: #1f77b4; stroke-opacity: 0.4"/>
     <circle cx="174.891507" cy="129.483431" r="2.2361" style="fill: #1f77b4; fill-opacity: 0.4; stroke: #1f77b4; stroke-opacity: 0.4"/>
     <circle cx="197.438006" cy="134.137772" r="2.2361" style="fill: #1f77b4; fill-opacity: 0.4; stroke: #1f77b4; stroke-opacity: 0.4"/>
     <circle cx="198.856545" cy="134.430605" r="2.2361" style="fill: #1f77b4; fill-opacity: 0.4; stroke: #1f77b4; stroke-opacity: 0.4"/>
     <circle cx="200.276196" cy="134.723668" r="2.2361" style="fill: #1f77b4; fill-opacity: 0.4; stroke: #1f77b4; stroke-opacity: 0.4"/>
     <circle cx="201.69696" cy="135.01696" r="2.2361" style="fill: #1f77b4; fill-opacity: 0.4; stroke: #1f77b4; stroke-opacity: 0.4"/>
     <circle cx="203.118838" cy="135.310482" r="2.2361" style="fill: #1f77b4; fill-opacity: 0.4; stroke: #1f77b4; stroke-opacity: 0.4"/>
     <circle cx="204.541831" cy="135.604235" r="2.2361" style="fill: #1f77b4; fill-opacity: 0.4; stroke: #1f77b4; stroke-opacity: 0.4"/>
     <circle cx="205.965942" cy="135.898218" r="2.2361" style="fill: #1f77b4; fill-opacity: 0.4; stroke: #1f77b4; stroke-opacity: 0.4"/>
     <circle cx="207.39117" cy="136.192433" r="2.2361" style="fill: #1f77b4; fill-opacity: 0.4; stroke: #1f77b4; stroke-opacity: 0.4"/>
     <circle cx="208.817518" cy="136.486878" r="2.2361" style="fill: #1f77b4; fill-opacity: 0.4; stroke: #1f77b4; stroke-opacity: 0.4"/>
     <circle cx="210.244987" cy="136.781555" r="2.2361" style="fill: #1f77b4; fill-opacity: 0.4; stroke: #1f77b4; stroke-opacity: 0.4"/>
     <circle cx="211.673578" cy="137.076463" r="2.2361" style="fill: #1f77b4; fill-opacity: 0.4; stroke: #1f77b4; stroke-opacity: 0.4"/>
     <circle cx="213.103293" cy="137.371603" r="2.2361" style="fill: #1f77b4; fill-opacity: 0.4; stroke: #1f77b4; stroke-opacity: 0.4"/>
     <circle cx="214.534132" cy="137.666975" r="2.2361" style="fill: #1f77b4; fill-opacity: 0.4; stroke: #1f77b4; stroke-opacity: 0.4"/>
     <circle cx="215.966098" cy="137.96258" r="2.2361" style="fill: #1f77b4; fill-opacity: 0.4; stroke: #1f77b4; stroke-opacity: 0.4"/>
     <circle cx="217.399191" cy="138.258418" r="2.2361" style="fill: #1f77b4; fill-opacity: 0.4; stroke: #1f77b4; stroke-opacity: 0.4"/>
     <circle cx="218.833412" cy="138.554489" r="2.2361" style="fill: #1f77b4; fill-opacity: 0.4; stroke: #1f77b4; stroke-opacity: 0.4"/>
     <circle cx="220.268764" cy="138.850792" r="2.2361" style="fill: #1f77b4; fill-opacity: 0.4; stroke: #1f77b4; stroke-opacity: 0.4"/>
     <circle cx="243.38919" cy="143.62361" r="2.2361" style="fill: #1f77b4; fill-opacity: 0.4; stroke: #1f77b4; stroke-opacity: 0.4"/>
     <circle cx="244.84396" cy="143.923923" r="2.2361" style="fill: #1f77b4; fill-opacity: 0.4; stroke: #1f77b4; stroke-opacity: 0.4"/>
     <circle cx="246.299885" cy="144.224474" r="2.2361" style="fill: #1f77b4; fill-opacity: 0.4; stroke: #1f77b4; stroke-opacity: 0.4"/>
     <circle cx="247.756966" cy="144.525263" r="2.2361" style="fill: #1f77b4; fill-opacity: 0.4; stroke: #1f77b4; stroke-opacity: 0.4"/>
     <circle cx="249.215204" cy="144.826292" r="2.2361" style="fill: #1f77b4; fill-opacity: 0.4; stroke: #1f77b4; stroke-opacity: 0.4"/>
     <circle cx="250.674601" cy="145.127559" r="2.2361" style="fill: #1f77b4; fill-opacity: 0.4; stroke: #1f77b4; stroke-opacity: 0.4"/>
     <circle cx="252.135157" cy="145.429066" r="2.2361" style="fill: #1f77b4; fill-opacity: 0.4; stroke: #1f77b4; stroke-opacity: 0.4"/>
     <circle cx="253.596875" cy="145.730813" r="2.2361" style="fill: #1f77b4; fill-opacity: 0.4; stroke: #1f77b4; stroke-opacity: 0.4"/>
     <circle cx="255.059756" cy="146.0328" r="2.2361" style="fill: #1f77b4; fill-opacity: 0.4; stroke: #1f77b4; stroke-opacity: 0.4"/>
     <circle cx="256.523801" cy="146.335027" r="2.2361" style="fill: #1f77b4; fill-opacity: 0.4; stroke: #1f77b4; stroke-opacity: 0.4"/>
     <circle cx="257.989012" cy="146.637495" r="2.2361" style="fill: #1f77b4; fill-opacity: 0.4; stroke: #1f77b4; stroke-opacity: 0.4"/>
     <circle cx="259.45539" cy="146.940203" r="2.2361" style="fill: #1f77b4; fill-opacity: 0.4; stroke: #1f77b4; stroke-opacity: 0.4"/>
     <circle cx="260.922936" cy="147.243153" r="2.2361" style="fill: #1f77b4; fill-opacity: 0.4; stroke: #1f77b4; stroke-opacity: 0.4"/>
    </g>
   </g>
  </g>
  <g id="text_24">
   <text style="font-size: 12px; font-family: 'DejaVu Sans', 'Liberation Sans', sans-serif; text-anchor: middle" x="0" y="0" transform="translate(223.500 52.300) rotate(-0.0000) scale(1 1.030)">schedule result</text>
  </g>
 </g>
 <defs>
  <clipPath id="p0552d5e2ae">
   <rect x="54.54" y="38.83" width="337.84" height="247.63"/>
  </clipPath>
 </defs>
<g id="legend_custom">
<rect x="59.5" y="143.3" width="60.6" height="136.1" rx="2" ry="2" style="fill:#ffffff;fill-opacity:0.8;stroke:#cccccc;stroke-opacity:0.8;stroke-width:1"/>
<circle cx="73.55" cy="154.10" r="2.236" style="fill:#1f77b4;fill-opacity:0.3;stroke:#1f77b4;stroke-opacity:0.3;stroke-width:1.5"/>
<text style="font-size:10px;font-family: 'DejaVu Sans', 'Liberation Sans', sans-serif" transform="translate(91.9 156.70) scale(1 1.120)">bus1</text>
<circle cx="73.55" cy="170.70" r="2.236" style="fill:#ff7f0e;fill-opacity:0.3;stroke:#ff7f0e;stroke-opacity:0.3;stroke-width:1.5"/>
<text style="font-size:10px;font-family: 'DejaVu Sans', 'Liberation Sans', sans-serif" transform="translate(91.9 173.30) scale(1 1.120)">bus2</text>
<circle cx="73.55" cy="187.30" r="2.236" style="fill:#2ca02c;fill-opacity:0.3;stroke:#2ca02c;stroke-opacity:0.3;stroke-width:1.5"/>
<text style="font-size:10px;font-family: 'DejaVu Sans', 'Liberation Sans', sans-serif" transform="translate(91.9 189.90) scale(1 1.120)">bus3</text>
<circle cx="73.55" cy="203.90" r="2.236" style="fill:#d62728;fill-opacity:0.3;stroke:#d62728;stroke-opacity:0.3;stroke-width:1.5"/>
<text style="font-size:10px;font-family: 'DejaVu Sans', 'Liberation Sans', sans-serif" transform="translate(91.9 206.50) scale(1 1.120)">bus4</text>
<circle cx="73.55" cy="220.50" r="2.236" style="fill:#9467bd;fill-opacity:0.3;stroke:#9467bd;stroke-opacity:0.3;stroke-width:1.5"/>
<text style="font-size:10px;font-family: 'DejaVu Sans', 'Liberation Sans', sans-serif" transform="translate(91.9 223.10) scale(1 1.120)">bus5</text>
<circle cx="73.55" cy="237.10" r="2.236" style="fill:#8c564b;fill-opacity:0.3;stroke:#8c564b;stroke-opacity:0.3;stroke-width:1.5"/>
<text style="font-size:10px;font-family: 'DejaVu Sans', 'Liberation Sans', sans-serif" transform="translate(91.9 239.70) scale(1 1.120)">bus6</text>
<circle cx="73.55" cy="253.70" r="2.236" style="fill:#e377c2;fill-opacity:0.3;stroke:#e377c2;stroke-opacity:0.3;stroke-width:1.5"/>
<text style="font-size:10px;font-family: 'DejaVu Sans', 'Liberation Sans', sans-serif" transform="translate(91.9 256.30) scale(1 1.120)">bus7</text>
<circle cx="73.55" cy="270.30" r="2.236" style="fill:#7f7f7f;fill-opacity:0.3;stroke:#7f7f7f;stroke-opacity:0.3;stroke-width:1.5"/>
<text style="font-size:10px;font-family: 'DejaVu Sans', 'Liberation Sans', sans-serif" transform="translate(91.9 272.90) scale(1 1.120)">bus8</text>
</g>
</svg>

</body></html>
